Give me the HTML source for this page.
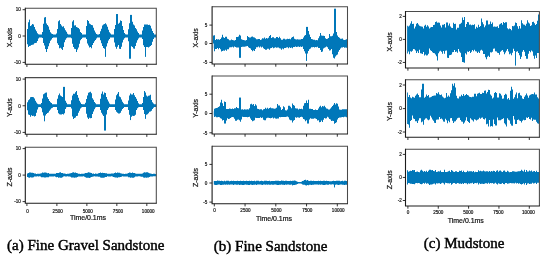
<!DOCTYPE html>
<html><head><meta charset="utf-8"><title>Vibration signals</title>
<style>
html,body{margin:0;padding:0;background:#fff;}
svg{display:block;}
svg text{font-family:"Liberation Sans",sans-serif;fill:#262626;}
svg text.tk{font-size:5.1px;fill:#1a1a1a;stroke:#1a1a1a;stroke-width:0.22px;}
svg text.yl{font-size:7px;fill:#111;stroke:#111;stroke-width:0.2px;}
svg text.xl{font-size:6.95px;fill:#111;stroke:#111;stroke-width:0.2px;}
svg text.cap{font-family:"Liberation Serif",serif;font-size:13.8px;fill:#000;stroke:#000;stroke-width:0.42px;}
</style></head><body>
<svg width="550" height="259" viewBox="0 0 550 259">
<rect width="550" height="259" fill="#fff"/>
<g><polygon fill="#0077b9" points="27.00,29.01 28.00,29.01 28.00,22.19 29.00,22.19 29.00,19.69 30.00,19.69 30.00,25.96 31.00,25.96 31.00,25.15 32.00,25.15 32.00,23.99 33.00,23.99 33.00,24.51 34.00,24.51 34.00,26.95 35.00,26.95 35.00,29.46 36.00,29.46 36.00,31.18 37.00,31.18 37.00,33.20 38.00,33.20 38.00,34.31 39.00,34.31 39.00,34.60 40.00,34.60 40.00,34.60 41.00,34.60 41.00,34.60 42.00,34.60 42.00,32.00 43.00,32.00 43.00,23.81 44.00,23.81 44.00,17.54 45.00,17.54 45.00,17.52 46.00,17.52 46.00,23.44 47.00,23.44 47.00,25.09 48.00,25.09 48.00,26.61 49.00,26.61 49.00,29.76 50.00,29.76 50.00,32.14 51.00,32.14 51.00,33.40 52.00,33.40 52.00,34.11 53.00,34.11 53.00,34.60 54.00,34.60 54.00,34.60 55.00,34.60 55.00,34.60 56.00,34.60 56.00,33.50 57.00,33.50 57.00,28.90 58.00,28.90 58.00,21.16 59.00,21.16 59.00,21.01 60.00,21.01 60.00,23.91 61.00,23.91 61.00,25.45 62.00,25.45 62.00,26.73 63.00,26.73 63.00,26.28 64.00,26.28 64.00,28.32 65.00,28.32 65.00,30.20 66.00,30.20 66.00,31.75 67.00,31.75 67.00,33.65 68.00,33.65 68.00,34.60 69.00,34.60 69.00,34.60 70.00,34.60 70.00,34.60 71.00,34.60 71.00,28.12 72.00,28.12 72.00,21.53 73.00,21.53 73.00,20.71 74.00,20.71 74.00,25.49 75.00,25.49 75.00,25.37 76.00,25.37 76.00,27.08 77.00,27.08 77.00,27.38 78.00,27.38 78.00,28.12 79.00,28.12 79.00,29.16 80.00,29.16 80.00,31.96 81.00,31.96 81.00,33.04 82.00,33.04 82.00,34.38 83.00,34.38 83.00,34.60 84.00,34.60 84.00,34.60 85.00,34.60 85.00,34.60 86.00,34.60 86.00,26.11 87.00,26.11 87.00,20.17 88.00,20.17 88.00,21.00 89.00,21.00 89.00,23.58 90.00,23.58 90.00,24.19 91.00,24.19 91.00,25.09 92.00,25.09 92.00,25.13 93.00,25.13 93.00,27.75 94.00,27.75 94.00,30.55 95.00,30.55 95.00,32.58 96.00,32.58 96.00,34.09 97.00,34.09 97.00,34.60 98.00,34.60 98.00,34.60 99.00,34.60 99.00,34.05 100.00,34.05 100.00,31.36 101.00,31.36 101.00,28.71 102.00,28.71 102.00,25.60 103.00,25.60 103.00,24.54 104.00,24.54 104.00,24.12 105.00,24.12 105.00,23.36 106.00,23.36 106.00,24.61 107.00,24.61 107.00,26.70 108.00,26.70 108.00,29.77 109.00,29.77 109.00,32.14 110.00,32.14 110.00,33.55 111.00,33.55 111.00,34.60 112.00,34.60 112.00,34.60 113.00,34.60 113.00,34.60 114.00,34.60 114.00,29.12 115.00,29.12 115.00,25.05 116.00,25.05 116.00,24.52 117.00,24.52 117.00,25.22 118.00,25.22 118.00,23.73 119.00,23.73 119.00,22.85 120.00,22.85 120.00,20.41 121.00,20.41 121.00,21.01 122.00,21.01 122.00,26.08 123.00,26.08 123.00,30.01 124.00,30.01 124.00,32.89 125.00,32.89 125.00,34.28 126.00,34.28 126.00,34.60 127.00,34.60 127.00,34.60 128.00,34.60 128.00,29.22 129.00,29.22 129.00,23.37 130.00,23.37 130.00,20.87 131.00,20.87 131.00,21.06 132.00,21.06 132.00,21.66 133.00,21.66 133.00,24.58 134.00,24.58 134.00,25.48 135.00,25.48 135.00,28.10 136.00,28.10 136.00,29.21 137.00,29.21 137.00,31.48 138.00,31.48 138.00,32.94 139.00,32.94 139.00,34.51 140.00,34.51 140.00,34.60 141.00,34.60 141.00,34.60 142.00,34.60 142.00,30.60 143.00,30.60 143.00,26.99 144.00,26.99 144.00,24.39 145.00,24.39 145.00,24.60 146.00,24.60 146.00,24.49 147.00,24.49 147.00,24.50 148.00,24.50 148.00,25.00 149.00,25.00 149.00,24.72 150.00,24.72 150.00,25.86 151.00,25.86 151.00,28.49 152.00,28.49 152.00,31.08 153.00,31.08 153.00,33.00 154.00,33.00 154.00,34.60 155.00,34.60 155.00,34.60 156.00,34.60 156.00,34.60 156.20,34.60 156.20,37.40 156.00,37.40 156.00,37.40 155.00,37.40 155.00,37.52 154.00,37.52 154.00,38.97 153.00,38.97 153.00,41.77 152.00,41.77 152.00,44.99 151.00,44.99 151.00,45.92 150.00,45.92 150.00,46.71 149.00,46.71 149.00,47.52 148.00,47.52 148.00,47.03 147.00,47.03 147.00,47.01 146.00,47.01 146.00,46.80 145.00,46.80 145.00,46.89 144.00,46.89 144.00,45.34 143.00,45.34 143.00,38.98 142.00,38.98 142.00,37.40 141.00,37.40 141.00,37.40 140.00,37.40 140.00,37.40 139.00,37.40 139.00,38.52 138.00,38.52 138.00,40.29 137.00,40.29 137.00,42.74 136.00,42.74 136.00,45.89 135.00,45.89 135.00,48.79 134.00,48.79 134.00,48.53 133.00,48.53 133.00,46.98 132.00,46.98 132.00,46.28 131.00,46.28 131.00,46.27 130.00,46.27 130.00,45.93 129.00,45.93 129.00,41.32 128.00,41.32 128.00,37.40 127.00,37.40 127.00,37.40 126.00,37.40 126.00,37.40 125.00,37.40 125.00,38.23 124.00,38.23 124.00,39.71 123.00,39.71 123.00,42.40 122.00,42.40 122.00,46.85 121.00,46.85 121.00,49.07 120.00,49.07 120.00,48.73 119.00,48.73 119.00,44.91 118.00,44.91 118.00,46.80 117.00,46.80 117.00,48.81 116.00,48.81 116.00,46.86 115.00,46.86 115.00,42.52 114.00,42.52 114.00,37.40 113.00,37.40 113.00,37.40 112.00,37.40 112.00,37.40 111.00,37.40 111.00,37.40 110.00,37.40 110.00,38.98 109.00,38.98 109.00,40.48 108.00,40.48 108.00,43.26 107.00,43.26 107.00,46.53 106.00,46.53 106.00,47.38 105.00,47.38 105.00,48.86 104.00,48.86 104.00,47.88 103.00,47.88 103.00,46.10 102.00,46.10 102.00,43.36 101.00,43.36 101.00,40.32 100.00,40.32 100.00,37.40 99.00,37.40 99.00,37.40 98.00,37.40 98.00,37.40 97.00,37.40 97.00,38.48 96.00,38.48 96.00,40.04 95.00,40.04 95.00,41.34 94.00,41.34 94.00,42.92 93.00,42.92 93.00,45.09 92.00,45.09 92.00,48.18 91.00,48.18 91.00,46.91 90.00,46.91 90.00,47.43 89.00,47.43 89.00,45.47 88.00,45.47 88.00,43.59 87.00,43.59 87.00,39.12 86.00,39.12 86.00,37.40 85.00,37.40 85.00,37.40 84.00,37.40 84.00,37.40 83.00,37.40 83.00,37.64 82.00,37.64 82.00,39.07 81.00,39.07 81.00,40.17 80.00,40.17 80.00,43.68 79.00,43.68 79.00,47.38 78.00,47.38 78.00,49.52 77.00,49.52 77.00,51.95 76.00,51.95 76.00,49.10 75.00,49.10 75.00,48.87 74.00,48.87 74.00,47.05 73.00,47.05 73.00,43.86 72.00,43.86 72.00,38.26 71.00,38.26 71.00,37.40 70.00,37.40 70.00,37.40 69.00,37.40 69.00,37.40 68.00,37.40 68.00,37.40 67.00,37.40 67.00,38.15 66.00,38.15 66.00,39.84 65.00,39.84 65.00,42.21 64.00,42.21 64.00,46.89 63.00,46.89 63.00,50.07 62.00,50.07 62.00,48.85 61.00,48.85 61.00,47.84 60.00,47.84 60.00,48.20 59.00,48.20 59.00,45.07 58.00,45.07 58.00,43.24 57.00,43.24 57.00,37.40 56.00,37.40 56.00,37.40 55.00,37.40 55.00,37.40 54.00,37.40 54.00,37.40 53.00,37.40 53.00,37.91 52.00,37.91 52.00,39.61 51.00,39.61 51.00,40.72 50.00,40.72 50.00,43.18 49.00,43.18 49.00,46.15 48.00,46.15 48.00,49.07 47.00,49.07 47.00,52.12 46.00,52.12 46.00,49.11 45.00,49.11 45.00,45.61 44.00,45.61 44.00,43.09 43.00,43.09 43.00,38.07 42.00,38.07 42.00,37.40 41.00,37.40 41.00,37.40 40.00,37.40 40.00,37.40 39.00,37.40 39.00,38.50 38.00,38.50 38.00,40.94 37.00,40.94 37.00,42.66 36.00,42.66 36.00,43.06 35.00,43.06 35.00,43.30 34.00,43.30 34.00,44.47 33.00,44.47 33.00,44.73 32.00,44.73 32.00,45.12 31.00,45.12 31.00,45.66 30.00,45.66 30.00,46.10 29.00,46.10 29.00,47.12 28.00,47.12 28.00,44.26 27.00,44.26"/><rect x="45" y="17.13" width="1" height="18.87" fill="#0077b9"/><rect x="29" y="19.85" width="1" height="16.15" fill="#0077b9"/><rect x="59" y="20.22" width="1" height="15.78" fill="#0077b9"/><rect x="73" y="20.22" width="1" height="15.78" fill="#0077b9"/><rect x="87" y="20.22" width="1" height="15.78" fill="#0077b9"/><rect x="116" y="14.04" width="2" height="21.96" fill="#0077b9"/><rect x="130" y="14.90" width="2" height="21.10" fill="#0077b9"/><rect x="120" y="20.84" width="1" height="15.16" fill="#0077b9"/><rect x="129" y="36.00" width="2" height="22.73" fill="#0077b9"/><rect x="105" y="36.00" width="1" height="20.87" fill="#0077b9"/><rect x="145" y="36.00" width="1" height="20.87" fill="#0077b9"/><polygon fill="#0077b9" points="27.00,102.17 28.00,102.17 28.00,100.17 29.00,100.17 29.00,99.13 30.00,99.13 30.00,97.33 31.00,97.33 31.00,96.92 32.00,96.92 32.00,97.07 33.00,97.07 33.00,97.32 34.00,97.32 34.00,98.48 35.00,98.48 35.00,100.63 36.00,100.63 36.00,102.61 37.00,102.61 37.00,103.84 38.00,103.84 38.00,104.30 39.00,104.30 39.00,104.30 40.00,104.30 40.00,104.30 41.00,104.30 41.00,103.08 42.00,103.08 42.00,98.43 43.00,98.43 43.00,94.36 44.00,94.36 44.00,93.44 45.00,93.44 45.00,92.79 46.00,92.79 46.00,92.46 47.00,92.46 47.00,97.37 48.00,97.37 48.00,99.04 49.00,99.04 49.00,101.04 50.00,101.04 50.00,102.37 51.00,102.37 51.00,103.09 52.00,103.09 52.00,104.27 53.00,104.27 53.00,104.30 54.00,104.30 54.00,104.30 55.00,104.30 55.00,104.30 56.00,104.30 56.00,104.30 57.00,104.30 57.00,98.70 58.00,98.70 58.00,95.34 59.00,95.34 59.00,93.56 60.00,93.56 60.00,95.56 61.00,95.56 61.00,96.29 62.00,96.29 62.00,96.88 63.00,96.88 63.00,98.20 64.00,98.20 64.00,99.18 65.00,99.18 65.00,100.75 66.00,100.75 66.00,102.73 67.00,102.73 67.00,104.30 68.00,104.30 68.00,104.30 69.00,104.30 69.00,104.30 70.00,104.30 70.00,104.30 71.00,104.30 71.00,100.37 72.00,100.37 72.00,95.53 73.00,95.53 73.00,93.71 74.00,93.71 74.00,93.78 75.00,93.78 75.00,92.20 76.00,92.20 76.00,91.12 77.00,91.12 77.00,94.93 78.00,94.93 78.00,97.78 79.00,97.78 79.00,100.82 80.00,100.82 80.00,102.57 81.00,102.57 81.00,104.06 82.00,104.06 82.00,104.30 83.00,104.30 83.00,104.30 84.00,104.30 84.00,104.30 85.00,104.30 85.00,102.69 86.00,102.69 86.00,99.01 87.00,99.01 87.00,95.47 88.00,95.47 88.00,92.79 89.00,92.79 89.00,92.13 90.00,92.13 90.00,91.85 91.00,91.85 91.00,93.24 92.00,93.24 92.00,98.30 93.00,98.30 93.00,99.78 94.00,99.78 94.00,101.90 95.00,101.90 95.00,103.14 96.00,103.14 96.00,104.30 97.00,104.30 97.00,104.30 98.00,104.30 98.00,104.30 99.00,104.30 99.00,104.30 100.00,104.30 100.00,98.79 101.00,98.79 101.00,93.72 102.00,93.72 102.00,91.53 103.00,91.53 103.00,94.52 104.00,94.52 104.00,92.45 105.00,92.45 105.00,93.01 106.00,93.01 106.00,96.99 107.00,96.99 107.00,99.55 108.00,99.55 108.00,101.41 109.00,101.41 109.00,103.38 110.00,103.38 110.00,104.26 111.00,104.26 111.00,104.30 112.00,104.30 112.00,104.30 113.00,104.30 113.00,104.30 114.00,104.30 114.00,104.30 115.00,104.30 115.00,99.56 116.00,99.56 116.00,95.21 117.00,95.21 117.00,93.80 118.00,93.80 118.00,91.90 119.00,91.90 119.00,96.42 120.00,96.42 120.00,97.21 121.00,97.21 121.00,99.57 122.00,99.57 122.00,101.87 123.00,101.87 123.00,103.23 124.00,103.23 124.00,104.30 125.00,104.30 125.00,104.30 126.00,104.30 126.00,104.30 127.00,104.30 127.00,104.30 128.00,104.30 128.00,100.43 129.00,100.43 129.00,95.41 130.00,95.41 130.00,93.51 131.00,93.51 131.00,94.43 132.00,94.43 132.00,94.54 133.00,94.54 133.00,92.93 134.00,92.93 134.00,95.22 135.00,95.22 135.00,97.01 136.00,97.01 136.00,98.65 137.00,98.65 137.00,100.95 138.00,100.95 138.00,103.21 139.00,103.21 139.00,104.30 140.00,104.30 140.00,104.30 141.00,104.30 141.00,104.30 142.00,104.30 142.00,103.11 143.00,103.11 143.00,97.08 144.00,97.08 144.00,91.07 145.00,91.07 145.00,92.55 146.00,92.55 146.00,95.45 147.00,95.45 147.00,96.39 148.00,96.39 148.00,95.84 149.00,95.84 149.00,95.47 150.00,95.47 150.00,94.66 151.00,94.66 151.00,100.10 152.00,100.10 152.00,102.37 153.00,102.37 153.00,103.54 154.00,103.54 154.00,104.30 155.00,104.30 155.00,104.30 156.00,104.30 156.00,104.30 156.20,104.30 156.20,107.10 156.00,107.10 156.00,107.10 155.00,107.10 155.00,107.10 154.00,107.10 154.00,107.70 153.00,107.70 153.00,109.10 152.00,109.10 152.00,110.68 151.00,110.68 151.00,111.55 150.00,111.55 150.00,111.72 149.00,111.72 149.00,113.31 148.00,113.31 148.00,114.26 147.00,114.26 147.00,114.84 146.00,114.84 146.00,115.20 145.00,115.20 145.00,114.08 144.00,114.08 144.00,109.89 143.00,109.89 143.00,107.10 142.00,107.10 142.00,107.10 141.00,107.10 141.00,107.10 140.00,107.10 140.00,107.10 139.00,107.10 139.00,107.35 138.00,107.35 138.00,108.22 137.00,108.22 137.00,109.95 136.00,109.95 136.00,114.87 135.00,114.87 135.00,115.75 134.00,115.75 134.00,115.90 133.00,115.90 133.00,115.87 132.00,115.87 132.00,116.67 131.00,116.67 131.00,116.59 130.00,116.59 130.00,114.63 129.00,114.63 129.00,109.93 128.00,109.93 128.00,107.10 127.00,107.10 127.00,107.10 126.00,107.10 126.00,107.10 125.00,107.10 125.00,107.10 124.00,107.10 124.00,107.90 123.00,107.90 123.00,109.10 122.00,109.10 122.00,110.85 121.00,110.85 121.00,112.73 120.00,112.73 120.00,113.39 119.00,113.39 119.00,113.40 118.00,113.40 118.00,112.64 117.00,112.64 117.00,111.86 116.00,111.86 116.00,110.04 115.00,110.04 115.00,107.10 114.00,107.10 114.00,107.10 113.00,107.10 113.00,107.10 112.00,107.10 112.00,107.10 111.00,107.10 111.00,107.10 110.00,107.10 110.00,107.10 109.00,107.10 109.00,108.13 108.00,108.13 108.00,109.90 107.00,109.90 107.00,114.43 106.00,114.43 106.00,115.57 105.00,115.57 105.00,115.48 104.00,115.48 104.00,116.12 103.00,116.12 103.00,114.42 102.00,114.42 102.00,112.85 101.00,112.85 101.00,109.95 100.00,109.95 100.00,107.10 99.00,107.10 99.00,107.10 98.00,107.10 98.00,107.10 97.00,107.10 97.00,107.10 96.00,107.10 96.00,107.60 95.00,107.60 95.00,109.18 94.00,109.18 94.00,111.56 93.00,111.56 93.00,113.94 92.00,113.94 92.00,117.93 91.00,117.93 91.00,118.17 90.00,118.17 90.00,117.83 89.00,117.83 89.00,118.89 88.00,118.89 88.00,117.47 87.00,117.47 87.00,113.85 86.00,113.85 86.00,107.10 85.00,107.10 85.00,107.10 84.00,107.10 84.00,107.10 83.00,107.10 83.00,107.10 82.00,107.10 82.00,107.38 81.00,107.38 81.00,108.48 80.00,108.48 80.00,110.67 79.00,110.67 79.00,112.78 78.00,112.78 78.00,115.69 77.00,115.69 77.00,115.96 76.00,115.96 76.00,117.62 75.00,117.62 75.00,118.07 74.00,118.07 74.00,119.03 73.00,119.03 73.00,116.56 72.00,116.56 72.00,108.52 71.00,108.52 71.00,107.10 70.00,107.10 70.00,107.10 69.00,107.10 69.00,107.10 68.00,107.10 68.00,107.10 67.00,107.10 67.00,107.27 66.00,107.27 66.00,109.07 65.00,109.07 65.00,113.24 64.00,113.24 64.00,114.52 63.00,114.52 63.00,113.89 62.00,113.89 62.00,114.38 61.00,114.38 61.00,114.38 60.00,114.38 60.00,114.29 59.00,114.29 59.00,113.14 58.00,113.14 58.00,109.96 57.00,109.96 57.00,107.10 56.00,107.10 56.00,107.10 55.00,107.10 55.00,107.10 54.00,107.10 54.00,107.10 53.00,107.10 53.00,107.78 52.00,107.78 52.00,108.36 51.00,108.36 51.00,109.57 50.00,109.57 50.00,110.66 49.00,110.66 49.00,112.43 48.00,112.43 48.00,112.95 47.00,112.95 47.00,114.05 46.00,114.05 46.00,115.62 45.00,115.62 45.00,114.78 44.00,114.78 44.00,115.52 43.00,115.52 43.00,112.24 42.00,112.24 42.00,108.15 41.00,108.15 41.00,107.10 40.00,107.10 40.00,107.10 39.00,107.10 39.00,107.36 38.00,107.36 38.00,109.47 37.00,109.47 37.00,112.76 36.00,112.76 36.00,116.01 35.00,116.01 35.00,116.54 34.00,116.54 34.00,115.69 33.00,115.69 33.00,115.99 32.00,115.99 32.00,115.32 31.00,115.32 31.00,116.67 30.00,116.67 30.00,115.12 29.00,115.12 29.00,114.55 28.00,114.55 28.00,110.32 27.00,110.32"/><rect x="63" y="86.88" width="2" height="18.82" fill="#0077b9"/><rect x="44" y="105.70" width="1" height="15.61" fill="#0077b9"/><rect x="104" y="105.70" width="2" height="24.88" fill="#0077b9"/><rect x="130" y="105.70" width="1" height="14.37" fill="#0077b9"/><rect x="145" y="105.70" width="1" height="13.14" fill="#0077b9"/><polygon fill="#0077b9" points="27.00,173.45 28.00,173.45 28.00,173.02 29.00,173.02 29.00,172.38 30.00,172.38 30.00,172.49 31.00,172.49 31.00,172.87 32.00,172.87 32.00,172.72 33.00,172.72 33.00,172.99 34.00,172.99 34.00,173.55 35.00,173.55 35.00,173.56 36.00,173.56 36.00,173.93 37.00,173.93 37.00,173.84 38.00,173.84 38.00,173.79 39.00,173.79 39.00,173.79 40.00,173.79 40.00,173.58 41.00,173.58 41.00,173.17 42.00,173.17 42.00,172.61 43.00,172.61 43.00,172.80 44.00,172.80 44.00,172.44 45.00,172.44 45.00,172.40 46.00,172.40 46.00,172.79 47.00,172.79 47.00,173.23 48.00,173.23 48.00,173.05 49.00,173.05 49.00,173.71 50.00,173.71 50.00,173.84 51.00,173.84 51.00,173.64 52.00,173.64 52.00,173.77 53.00,173.77 53.00,173.81 54.00,173.81 54.00,173.64 55.00,173.64 55.00,173.79 56.00,173.79 56.00,173.10 57.00,173.10 57.00,172.92 58.00,172.92 58.00,172.91 59.00,172.91 59.00,172.43 60.00,172.43 60.00,172.23 61.00,172.23 61.00,172.89 62.00,172.89 62.00,172.90 63.00,172.90 63.00,173.48 64.00,173.48 64.00,173.56 65.00,173.56 65.00,173.69 66.00,173.69 66.00,173.91 67.00,173.91 67.00,173.67 68.00,173.67 68.00,173.70 69.00,173.70 69.00,173.54 70.00,173.54 70.00,173.13 71.00,173.13 71.00,172.95 72.00,172.95 72.00,172.45 73.00,172.45 73.00,172.26 74.00,172.26 74.00,172.86 75.00,172.86 75.00,172.38 76.00,172.38 76.00,172.98 77.00,172.98 77.00,173.31 78.00,173.31 78.00,173.78 79.00,173.78 79.00,173.69 80.00,173.69 80.00,173.88 81.00,173.88 81.00,173.65 82.00,173.65 82.00,173.87 83.00,173.87 83.00,173.66 84.00,173.66 84.00,173.47 85.00,173.47 85.00,172.95 86.00,172.95 86.00,172.92 87.00,172.92 87.00,172.81 88.00,172.81 88.00,172.36 89.00,172.36 89.00,172.41 90.00,172.41 90.00,172.76 91.00,172.76 91.00,172.94 92.00,172.94 92.00,173.68 93.00,173.68 93.00,173.60 94.00,173.60 94.00,173.92 95.00,173.92 95.00,173.62 96.00,173.62 96.00,173.74 97.00,173.74 97.00,173.69 98.00,173.69 98.00,173.32 99.00,173.32 99.00,173.02 100.00,173.02 100.00,172.61 101.00,172.61 101.00,172.93 102.00,172.93 102.00,172.65 103.00,172.65 103.00,172.88 104.00,172.88 104.00,172.92 105.00,172.92 105.00,173.20 106.00,173.20 106.00,173.23 107.00,173.23 107.00,173.84 108.00,173.84 108.00,173.86 109.00,173.86 109.00,173.80 110.00,173.80 110.00,173.66 111.00,173.66 111.00,173.58 112.00,173.58 112.00,173.53 113.00,173.53 113.00,173.46 114.00,173.46 114.00,172.88 115.00,172.88 115.00,172.49 116.00,172.49 116.00,172.90 117.00,172.90 117.00,172.42 118.00,172.42 118.00,172.73 119.00,172.73 119.00,172.85 120.00,172.85 120.00,173.21 121.00,173.21 121.00,173.55 122.00,173.55 122.00,173.76 123.00,173.76 123.00,173.78 124.00,173.78 124.00,173.92 125.00,173.92 125.00,173.79 126.00,173.79 126.00,173.87 127.00,173.87 127.00,173.49 128.00,173.49 128.00,173.08 129.00,173.08 129.00,172.55 130.00,172.55 130.00,172.66 131.00,172.66 131.00,172.92 132.00,172.92 132.00,172.56 133.00,172.56 133.00,172.96 134.00,172.96 134.00,172.95 135.00,172.95 135.00,173.54 136.00,173.54 136.00,173.76 137.00,173.76 137.00,173.63 138.00,173.63 138.00,173.84 139.00,173.84 139.00,173.86 140.00,173.86 140.00,173.83 141.00,173.83 141.00,173.63 142.00,173.63 142.00,173.52 143.00,173.52 143.00,172.87 144.00,172.87 144.00,172.33 145.00,172.33 145.00,172.51 146.00,172.51 146.00,172.37 147.00,172.37 147.00,172.31 148.00,172.31 148.00,172.68 149.00,172.68 149.00,173.17 150.00,173.17 150.00,173.48 151.00,173.48 151.00,173.64 152.00,173.64 152.00,173.89 153.00,173.89 153.00,173.81 154.00,173.81 154.00,173.86 155.00,173.86 155.00,173.89 156.00,173.89 156.00,173.77 156.30,173.77 156.30,176.54 156.00,176.54 156.00,176.21 155.00,176.21 155.00,176.26 154.00,176.26 154.00,176.28 153.00,176.28 153.00,176.57 152.00,176.57 152.00,176.41 151.00,176.41 151.00,176.50 150.00,176.50 150.00,176.90 149.00,176.90 149.00,177.42 148.00,177.42 148.00,177.62 147.00,177.62 147.00,177.76 146.00,177.76 146.00,177.53 145.00,177.53 145.00,177.69 144.00,177.69 144.00,177.39 143.00,177.39 143.00,176.87 142.00,176.87 142.00,176.68 141.00,176.68 141.00,176.52 140.00,176.52 140.00,176.37 139.00,176.37 139.00,176.28 138.00,176.28 138.00,176.57 137.00,176.57 137.00,176.54 136.00,176.54 136.00,176.54 135.00,176.54 135.00,177.33 134.00,177.33 134.00,177.74 133.00,177.74 133.00,177.71 132.00,177.71 132.00,177.40 131.00,177.40 131.00,177.66 130.00,177.66 130.00,177.25 129.00,177.25 129.00,177.33 128.00,177.33 128.00,176.61 127.00,176.61 127.00,176.51 126.00,176.51 126.00,176.39 125.00,176.39 125.00,176.38 124.00,176.38 124.00,176.53 123.00,176.53 123.00,176.24 122.00,176.24 122.00,176.68 121.00,176.68 121.00,176.99 120.00,176.99 120.00,177.29 119.00,177.29 119.00,177.31 118.00,177.31 118.00,177.77 117.00,177.77 117.00,177.56 116.00,177.56 116.00,177.39 115.00,177.39 115.00,177.23 114.00,177.23 114.00,177.11 113.00,177.11 113.00,176.41 112.00,176.41 112.00,176.29 111.00,176.29 111.00,176.58 110.00,176.58 110.00,176.55 109.00,176.55 109.00,176.56 108.00,176.56 108.00,176.34 107.00,176.34 107.00,176.90 106.00,176.90 106.00,177.09 105.00,177.09 105.00,177.42 104.00,177.42 104.00,177.75 103.00,177.75 103.00,177.76 102.00,177.76 102.00,177.87 101.00,177.87 101.00,177.42 100.00,177.42 100.00,176.75 99.00,176.75 99.00,176.65 98.00,176.65 98.00,176.58 97.00,176.58 97.00,176.45 96.00,176.45 96.00,176.47 95.00,176.47 95.00,176.34 94.00,176.34 94.00,176.53 93.00,176.53 93.00,176.68 92.00,176.68 92.00,177.05 91.00,177.05 91.00,177.52 90.00,177.52 90.00,177.89 89.00,177.89 89.00,177.78 88.00,177.78 88.00,177.68 87.00,177.68 87.00,177.64 86.00,177.64 86.00,177.35 85.00,177.35 85.00,176.70 84.00,176.70 84.00,176.30 83.00,176.30 83.00,176.60 82.00,176.60 82.00,176.43 81.00,176.43 81.00,176.55 80.00,176.55 80.00,176.41 79.00,176.41 79.00,176.43 78.00,176.43 78.00,176.91 77.00,176.91 77.00,177.48 76.00,177.48 76.00,177.56 75.00,177.56 75.00,177.85 74.00,177.85 74.00,177.55 73.00,177.55 73.00,177.42 72.00,177.42 72.00,177.43 71.00,177.43 71.00,176.77 70.00,176.77 70.00,176.54 69.00,176.54 69.00,176.50 68.00,176.50 68.00,176.30 67.00,176.30 67.00,176.54 66.00,176.54 66.00,176.39 65.00,176.39 65.00,176.35 64.00,176.35 64.00,176.57 63.00,176.57 63.00,177.24 62.00,177.24 62.00,177.84 61.00,177.84 61.00,177.84 60.00,177.84 60.00,177.40 59.00,177.40 59.00,177.66 58.00,177.66 58.00,177.06 57.00,177.06 57.00,177.19 56.00,177.19 56.00,176.64 55.00,176.64 55.00,176.31 54.00,176.31 54.00,176.60 53.00,176.60 53.00,176.55 52.00,176.55 52.00,176.47 51.00,176.47 51.00,176.40 50.00,176.40 50.00,176.41 49.00,176.41 49.00,177.13 48.00,177.13 48.00,177.32 47.00,177.32 47.00,177.36 46.00,177.36 46.00,177.52 45.00,177.52 45.00,177.48 44.00,177.48 44.00,177.30 43.00,177.30 43.00,177.13 42.00,177.13 42.00,177.13 41.00,177.13 41.00,176.44 40.00,176.44 40.00,176.37 39.00,176.37 39.00,176.47 38.00,176.47 38.00,176.36 37.00,176.36 37.00,176.43 36.00,176.43 36.00,176.39 35.00,176.39 35.00,176.61 34.00,176.61 34.00,177.35 33.00,177.35 33.00,177.44 32.00,177.44 32.00,177.60 31.00,177.60 31.00,177.35 30.00,177.35 30.00,177.65 29.00,177.65 29.00,177.44 28.00,177.44 28.00,176.88 27.00,176.88"/><polygon fill="#0077b9" points="213.80,37.93 214.00,37.93 214.00,35.37 215.00,35.37 215.00,40.08 216.00,40.08 216.00,39.01 217.00,39.01 217.00,39.52 218.00,39.52 218.00,39.25 219.00,39.25 219.00,39.80 220.00,39.80 220.00,39.04 221.00,39.04 221.00,37.39 222.00,37.39 222.00,34.68 223.00,34.68 223.00,37.20 224.00,37.20 224.00,38.08 225.00,38.08 225.00,36.68 226.00,36.68 226.00,36.71 227.00,36.71 227.00,38.69 228.00,38.69 228.00,39.31 229.00,39.31 229.00,40.24 230.00,40.24 230.00,40.27 231.00,40.27 231.00,39.49 232.00,39.49 232.00,39.97 233.00,39.97 233.00,40.15 234.00,40.15 234.00,40.52 235.00,40.52 235.00,39.90 236.00,39.90 236.00,36.91 237.00,36.91 237.00,36.91 238.00,36.91 238.00,36.42 239.00,36.42 239.00,34.72 240.00,34.72 240.00,36.12 241.00,36.12 241.00,39.36 242.00,39.36 242.00,39.86 243.00,39.86 243.00,40.11 244.00,40.11 244.00,40.24 245.00,40.24 245.00,40.61 246.00,40.61 246.00,40.02 247.00,40.02 247.00,36.11 248.00,36.11 248.00,37.02 249.00,37.02 249.00,37.58 250.00,37.58 250.00,37.61 251.00,37.61 251.00,36.81 252.00,36.81 252.00,36.39 253.00,36.39 253.00,37.26 254.00,37.26 254.00,37.44 255.00,37.44 255.00,38.18 256.00,38.18 256.00,39.34 257.00,39.34 257.00,39.23 258.00,39.23 258.00,39.07 259.00,39.07 259.00,39.11 260.00,39.11 260.00,39.91 261.00,39.91 261.00,39.45 262.00,39.45 262.00,38.30 263.00,38.30 263.00,38.50 264.00,38.50 264.00,37.46 265.00,37.46 265.00,38.77 266.00,38.77 266.00,38.04 267.00,38.04 267.00,38.57 268.00,38.57 268.00,37.66 269.00,37.66 269.00,35.93 270.00,35.93 270.00,34.93 271.00,34.93 271.00,37.98 272.00,37.98 272.00,37.15 273.00,37.15 273.00,37.27 274.00,37.27 274.00,38.27 275.00,38.27 275.00,38.14 276.00,38.14 276.00,37.09 277.00,37.09 277.00,36.96 278.00,36.96 278.00,37.91 279.00,37.91 279.00,36.83 280.00,36.83 280.00,38.13 281.00,38.13 281.00,39.67 282.00,39.67 282.00,39.74 283.00,39.74 283.00,38.82 284.00,38.82 284.00,38.71 285.00,38.71 285.00,39.52 286.00,39.52 286.00,39.27 287.00,39.27 287.00,38.82 288.00,38.82 288.00,39.11 289.00,39.11 289.00,38.70 290.00,38.70 290.00,39.37 291.00,39.37 291.00,37.77 292.00,37.77 292.00,37.08 293.00,37.08 293.00,36.53 294.00,36.53 294.00,38.85 295.00,38.85 295.00,39.24 296.00,39.24 296.00,39.39 297.00,39.39 297.00,39.21 298.00,39.21 298.00,39.56 299.00,39.56 299.00,39.47 300.00,39.47 300.00,39.54 301.00,39.54 301.00,39.01 302.00,39.01 302.00,39.11 303.00,39.11 303.00,37.40 304.00,37.40 304.00,35.87 305.00,35.87 305.00,35.04 306.00,35.04 306.00,33.86 307.00,33.86 307.00,34.66 308.00,34.66 308.00,33.77 309.00,33.77 309.00,34.40 310.00,34.40 310.00,36.88 311.00,36.88 311.00,39.12 312.00,39.12 312.00,39.31 313.00,39.31 313.00,39.75 314.00,39.75 314.00,39.81 315.00,39.81 315.00,40.30 316.00,40.30 316.00,39.93 317.00,39.93 317.00,40.37 318.00,40.37 318.00,38.19 319.00,38.19 319.00,36.28 320.00,36.28 320.00,36.87 321.00,36.87 321.00,35.59 322.00,35.59 322.00,35.74 323.00,35.74 323.00,35.75 324.00,35.75 324.00,35.97 325.00,35.97 325.00,38.15 326.00,38.15 326.00,38.99 327.00,38.99 327.00,38.75 328.00,38.75 328.00,37.98 329.00,37.98 329.00,36.36 330.00,36.36 330.00,36.19 331.00,36.19 331.00,36.22 332.00,36.22 332.00,35.73 333.00,35.73 333.00,33.43 334.00,33.43 334.00,33.26 335.00,33.26 335.00,33.72 336.00,33.72 336.00,32.07 337.00,32.07 337.00,35.51 338.00,35.51 338.00,36.96 339.00,36.96 339.00,37.66 340.00,37.66 340.00,38.67 341.00,38.67 341.00,38.76 342.00,38.76 342.00,38.52 343.00,38.52 343.00,39.65 344.00,39.65 344.00,39.89 345.00,39.89 345.00,39.78 346.00,39.78 346.00,39.29 347.00,39.29 347.00,39.74 347.40,39.74 347.40,46.81 347.00,46.81 347.00,47.72 346.00,47.72 346.00,47.57 345.00,47.57 345.00,47.67 344.00,47.67 344.00,47.02 343.00,47.02 343.00,47.38 342.00,47.38 342.00,47.41 341.00,47.41 341.00,48.40 340.00,48.40 340.00,50.01 339.00,50.01 339.00,51.71 338.00,51.71 338.00,54.38 337.00,54.38 337.00,55.15 336.00,55.15 336.00,56.53 335.00,56.53 335.00,58.46 334.00,58.46 334.00,57.81 333.00,57.81 333.00,54.32 332.00,54.32 332.00,49.08 331.00,49.08 331.00,50.32 330.00,50.32 330.00,50.54 329.00,50.54 329.00,49.06 328.00,49.06 328.00,47.22 327.00,47.22 327.00,46.50 326.00,46.50 326.00,47.36 325.00,47.36 325.00,47.74 324.00,47.74 324.00,48.55 323.00,48.55 323.00,51.43 322.00,51.43 322.00,51.92 321.00,51.92 321.00,50.11 320.00,50.11 320.00,47.92 319.00,47.92 319.00,48.10 318.00,48.10 318.00,46.72 317.00,46.72 317.00,47.31 316.00,47.31 316.00,46.90 315.00,46.90 315.00,47.40 314.00,47.40 314.00,47.00 313.00,47.00 313.00,47.36 312.00,47.36 312.00,47.36 311.00,47.36 311.00,48.52 310.00,48.52 310.00,49.15 309.00,49.15 309.00,50.95 308.00,50.95 308.00,53.57 307.00,53.57 307.00,54.56 306.00,54.56 306.00,53.41 305.00,53.41 305.00,51.15 304.00,51.15 304.00,49.10 303.00,49.10 303.00,46.45 302.00,46.45 302.00,46.95 301.00,46.95 301.00,46.48 300.00,46.48 300.00,47.02 299.00,47.02 299.00,46.54 298.00,46.54 298.00,46.87 297.00,46.87 297.00,46.99 296.00,46.99 296.00,46.45 295.00,46.45 295.00,47.03 294.00,47.03 294.00,46.98 293.00,46.98 293.00,48.14 292.00,48.14 292.00,47.38 291.00,47.38 291.00,48.07 290.00,48.07 290.00,47.29 289.00,47.29 289.00,48.22 288.00,48.22 288.00,47.16 287.00,47.16 287.00,47.51 286.00,47.51 286.00,48.02 285.00,48.02 285.00,48.12 284.00,48.12 284.00,49.24 283.00,49.24 283.00,48.44 282.00,48.44 282.00,49.64 281.00,49.64 281.00,48.56 280.00,48.56 280.00,48.15 279.00,48.15 279.00,47.39 278.00,47.39 278.00,47.61 277.00,47.61 277.00,47.79 276.00,47.79 276.00,47.26 275.00,47.26 275.00,47.73 274.00,47.73 274.00,48.20 273.00,48.20 273.00,47.25 272.00,47.25 272.00,48.11 271.00,48.11 271.00,48.31 270.00,48.31 270.00,49.74 269.00,49.74 269.00,48.79 268.00,48.79 268.00,48.78 267.00,48.78 267.00,49.80 266.00,49.80 266.00,49.73 265.00,49.73 265.00,48.98 264.00,48.98 264.00,48.20 263.00,48.20 263.00,46.72 262.00,46.72 262.00,47.42 261.00,47.42 261.00,46.54 260.00,46.54 260.00,47.49 259.00,47.49 259.00,46.59 258.00,46.59 258.00,47.15 257.00,47.15 257.00,47.19 256.00,47.19 256.00,48.97 255.00,48.97 255.00,51.07 254.00,51.07 254.00,50.28 253.00,50.28 253.00,51.29 252.00,51.29 252.00,49.93 251.00,49.93 251.00,48.51 250.00,48.51 250.00,48.02 249.00,48.02 249.00,47.20 248.00,47.20 248.00,46.09 247.00,46.09 247.00,46.26 246.00,46.26 246.00,46.57 245.00,46.57 245.00,46.77 244.00,46.77 244.00,46.75 243.00,46.75 243.00,46.83 242.00,46.83 242.00,46.88 241.00,46.88 241.00,46.76 240.00,46.76 240.00,47.55 239.00,47.55 239.00,47.41 238.00,47.41 238.00,47.44 237.00,47.44 237.00,47.58 236.00,47.58 236.00,46.95 235.00,46.95 235.00,46.60 234.00,46.60 234.00,47.47 233.00,47.47 233.00,46.80 232.00,46.80 232.00,47.26 231.00,47.26 231.00,47.23 230.00,47.23 230.00,47.57 229.00,47.57 229.00,49.14 228.00,49.14 228.00,49.19 227.00,49.19 227.00,50.66 226.00,50.66 226.00,49.86 225.00,49.86 225.00,50.72 224.00,50.72 224.00,50.59 223.00,50.59 223.00,51.12 222.00,51.12 222.00,51.41 221.00,51.41 221.00,49.35 220.00,49.35 220.00,48.01 219.00,48.01 219.00,49.14 218.00,49.14 218.00,47.92 217.00,47.92 217.00,49.09 216.00,49.09 216.00,48.88 215.00,48.88 215.00,51.17 214.00,51.17 214.00,48.24 213.80,48.24"/><rect x="240" y="35.56" width="1" height="7.94" fill="#0077b9"/><rect x="222" y="35.56" width="1" height="7.94" fill="#0077b9"/><rect x="213" y="35.56" width="1" height="7.94" fill="#0077b9"/><rect x="239" y="43.50" width="2" height="14.32" fill="#0077b9"/><rect x="306" y="26.90" width="2" height="16.60" fill="#0077b9"/><rect x="308" y="31.00" width="1" height="12.50" fill="#0077b9"/><rect x="320" y="33.00" width="1" height="10.50" fill="#0077b9"/><rect x="329" y="34.00" width="1" height="9.50" fill="#0077b9"/><rect x="334" y="8.70" width="2" height="34.80" fill="#0077b9"/><rect x="306" y="43.50" width="1" height="17.41" fill="#0077b9"/><polygon fill="#0077b9" points="213.80,111.21 214.00,111.21 214.00,108.78 215.00,108.78 215.00,108.26 216.00,108.26 216.00,107.95 217.00,107.95 217.00,107.75 218.00,107.75 218.00,106.98 219.00,106.98 219.00,106.35 220.00,106.35 220.00,102.45 221.00,102.45 221.00,99.66 222.00,99.66 222.00,103.26 223.00,103.26 223.00,106.09 224.00,106.09 224.00,101.44 225.00,101.44 225.00,102.08 226.00,102.08 226.00,109.12 227.00,109.12 227.00,109.06 228.00,109.06 228.00,109.05 229.00,109.05 229.00,108.43 230.00,108.43 230.00,108.68 231.00,108.68 231.00,109.07 232.00,109.07 232.00,108.49 233.00,108.49 233.00,109.10 234.00,109.10 234.00,108.37 235.00,108.37 235.00,108.33 236.00,108.33 236.00,107.01 237.00,107.01 237.00,107.90 238.00,107.90 238.00,108.31 239.00,108.31 239.00,107.33 240.00,107.33 240.00,108.97 241.00,108.97 241.00,109.40 242.00,109.40 242.00,109.22 243.00,109.22 243.00,109.85 244.00,109.85 244.00,109.21 245.00,109.21 245.00,109.60 246.00,109.60 246.00,109.52 247.00,109.52 247.00,109.31 248.00,109.31 248.00,109.41 249.00,109.41 249.00,108.25 250.00,108.25 250.00,104.15 251.00,104.15 251.00,103.70 252.00,103.70 252.00,104.87 253.00,104.87 253.00,104.07 254.00,104.07 254.00,105.98 255.00,105.98 255.00,104.32 256.00,104.32 256.00,105.43 257.00,105.43 257.00,108.82 258.00,108.82 258.00,108.92 259.00,108.92 259.00,109.53 260.00,109.53 260.00,109.34 261.00,109.34 261.00,109.21 262.00,109.21 262.00,110.18 263.00,110.18 263.00,109.24 264.00,109.24 264.00,109.12 265.00,109.12 265.00,107.63 266.00,107.63 266.00,108.73 267.00,108.73 267.00,107.68 268.00,107.68 268.00,108.69 269.00,108.69 269.00,107.93 270.00,107.93 270.00,107.47 271.00,107.47 271.00,108.28 272.00,108.28 272.00,108.14 273.00,108.14 273.00,108.40 274.00,108.40 274.00,108.87 275.00,108.87 275.00,108.60 276.00,108.60 276.00,107.65 277.00,107.65 277.00,104.10 278.00,104.10 278.00,105.38 279.00,105.38 279.00,105.45 280.00,105.45 280.00,107.26 281.00,107.26 281.00,109.98 282.00,109.98 282.00,108.90 283.00,108.90 283.00,106.27 284.00,106.27 284.00,107.17 285.00,107.17 285.00,110.16 286.00,110.16 286.00,110.49 287.00,110.49 287.00,109.49 288.00,109.49 288.00,105.82 289.00,105.82 289.00,105.84 290.00,105.84 290.00,106.74 291.00,106.74 291.00,108.17 292.00,108.17 292.00,103.44 293.00,103.44 293.00,104.89 294.00,104.89 294.00,105.63 295.00,105.63 295.00,108.14 296.00,108.14 296.00,108.52 297.00,108.52 297.00,108.57 298.00,108.57 298.00,109.52 299.00,109.52 299.00,108.70 300.00,108.70 300.00,108.96 301.00,108.96 301.00,108.83 302.00,108.83 302.00,109.31 303.00,109.31 303.00,105.69 304.00,105.69 304.00,103.23 305.00,103.23 305.00,103.02 306.00,103.02 306.00,100.47 307.00,100.47 307.00,103.04 308.00,103.04 308.00,99.87 309.00,99.87 309.00,108.76 310.00,108.76 310.00,108.70 311.00,108.70 311.00,109.09 312.00,109.09 312.00,108.98 313.00,108.98 313.00,109.99 314.00,109.99 314.00,110.08 315.00,110.08 315.00,109.51 316.00,109.51 316.00,109.99 317.00,109.99 317.00,109.91 318.00,109.91 318.00,108.60 319.00,108.60 319.00,106.68 320.00,106.68 320.00,105.87 321.00,105.87 321.00,107.35 322.00,107.35 322.00,106.08 323.00,106.08 323.00,106.38 324.00,106.38 324.00,105.83 325.00,105.83 325.00,107.29 326.00,107.29 326.00,108.58 327.00,108.58 327.00,108.72 328.00,108.72 328.00,109.60 329.00,109.60 329.00,109.53 330.00,109.53 330.00,108.40 331.00,108.40 331.00,107.25 332.00,107.25 332.00,106.06 333.00,106.06 333.00,104.75 334.00,104.75 334.00,103.07 335.00,103.07 335.00,104.47 336.00,104.47 336.00,103.23 337.00,103.23 337.00,103.79 338.00,103.79 338.00,106.43 339.00,106.43 339.00,109.59 340.00,109.59 340.00,109.83 341.00,109.83 341.00,109.84 342.00,109.84 342.00,109.21 343.00,109.21 343.00,109.22 344.00,109.22 344.00,109.27 345.00,109.27 345.00,109.32 346.00,109.32 346.00,109.31 347.00,109.31 347.00,109.22 347.40,109.22 347.40,117.09 347.00,117.09 347.00,117.18 346.00,117.18 346.00,116.70 345.00,116.70 345.00,116.83 344.00,116.83 344.00,117.14 343.00,117.14 343.00,117.10 342.00,117.10 342.00,117.19 341.00,117.19 341.00,117.47 340.00,117.47 340.00,117.55 339.00,117.55 339.00,118.11 338.00,118.11 338.00,119.55 337.00,119.55 337.00,122.19 336.00,122.19 336.00,122.99 335.00,122.99 335.00,123.70 334.00,123.70 334.00,120.92 333.00,120.92 333.00,120.63 332.00,120.63 332.00,121.09 331.00,121.09 331.00,119.58 330.00,119.58 330.00,118.91 329.00,118.91 329.00,117.53 328.00,117.53 328.00,116.79 327.00,116.79 327.00,118.13 326.00,118.13 326.00,118.56 325.00,118.56 325.00,117.99 324.00,117.99 324.00,119.74 323.00,119.74 323.00,121.93 322.00,121.93 322.00,120.45 321.00,120.45 321.00,121.93 320.00,121.93 320.00,122.18 319.00,122.18 319.00,120.24 318.00,120.24 318.00,120.59 317.00,120.59 317.00,118.93 316.00,118.93 316.00,118.46 315.00,118.46 315.00,118.32 314.00,118.32 314.00,118.84 313.00,118.84 313.00,118.71 312.00,118.71 312.00,118.65 311.00,118.65 311.00,118.17 310.00,118.17 310.00,119.48 309.00,119.48 309.00,122.00 308.00,122.00 308.00,121.77 307.00,121.77 307.00,120.26 306.00,120.26 306.00,121.18 305.00,121.18 305.00,119.46 304.00,119.46 304.00,118.96 303.00,118.96 303.00,117.14 302.00,117.14 302.00,116.80 301.00,116.80 301.00,116.96 300.00,116.96 300.00,117.70 299.00,117.70 299.00,117.44 298.00,117.44 298.00,117.37 297.00,117.37 297.00,117.80 296.00,117.80 296.00,117.30 295.00,117.30 295.00,119.93 294.00,119.93 294.00,120.78 293.00,120.78 293.00,122.49 292.00,122.49 292.00,120.35 291.00,120.35 291.00,120.18 290.00,120.18 290.00,119.41 289.00,119.41 289.00,117.13 288.00,117.13 288.00,116.41 287.00,116.41 287.00,116.84 286.00,116.84 286.00,116.97 285.00,116.97 285.00,117.07 284.00,117.07 284.00,117.09 283.00,117.09 283.00,117.04 282.00,117.04 282.00,116.92 281.00,116.92 281.00,117.25 280.00,117.25 280.00,117.03 279.00,117.03 279.00,118.62 278.00,118.62 278.00,118.61 277.00,118.61 277.00,118.69 276.00,118.69 276.00,118.57 275.00,118.57 275.00,117.86 274.00,117.86 274.00,118.48 273.00,118.48 273.00,117.42 272.00,117.42 272.00,118.04 271.00,118.04 271.00,118.22 270.00,118.22 270.00,117.96 269.00,117.96 269.00,117.78 268.00,117.78 268.00,117.78 267.00,117.78 267.00,118.30 266.00,118.30 266.00,120.20 265.00,120.20 265.00,120.31 264.00,120.31 264.00,119.67 263.00,119.67 263.00,117.45 262.00,117.45 262.00,118.04 261.00,118.04 261.00,117.19 260.00,117.19 260.00,117.97 259.00,117.97 259.00,118.11 258.00,118.11 258.00,118.10 257.00,118.10 257.00,117.96 256.00,117.96 256.00,117.77 255.00,117.77 255.00,120.21 254.00,120.21 254.00,120.76 253.00,120.76 253.00,121.30 252.00,121.30 252.00,119.94 251.00,119.94 251.00,118.44 250.00,118.44 250.00,116.84 249.00,116.84 249.00,116.97 248.00,116.97 248.00,117.25 247.00,117.25 247.00,116.91 246.00,116.91 246.00,117.04 245.00,117.04 245.00,116.96 244.00,116.96 244.00,117.00 243.00,117.00 243.00,116.77 242.00,116.77 242.00,119.53 241.00,119.53 241.00,121.66 240.00,121.66 240.00,120.24 239.00,120.24 239.00,119.42 238.00,119.42 238.00,119.70 237.00,119.70 237.00,120.87 236.00,120.87 236.00,120.75 235.00,120.75 235.00,118.74 234.00,118.74 234.00,117.36 233.00,117.36 233.00,117.04 232.00,117.04 232.00,117.20 231.00,117.20 231.00,118.10 230.00,118.10 230.00,118.66 229.00,118.66 229.00,119.05 228.00,119.05 228.00,118.36 227.00,118.36 227.00,120.56 226.00,120.56 226.00,119.66 225.00,119.66 225.00,120.70 224.00,120.70 224.00,119.96 223.00,119.96 223.00,120.40 222.00,120.40 222.00,118.72 221.00,118.72 221.00,118.18 220.00,118.18 220.00,117.13 219.00,117.13 219.00,117.11 218.00,117.11 218.00,117.16 217.00,117.16 217.00,117.17 216.00,117.17 216.00,116.57 215.00,116.57 215.00,116.92 214.00,116.92 214.00,115.34 213.80,115.34"/><rect x="239" y="97.56" width="2" height="15.94" fill="#0077b9"/><rect x="224" y="113.50" width="2" height="10.03" fill="#0077b9"/><rect x="307" y="113.50" width="2" height="10.03" fill="#0077b9"/><polygon fill="#0077b9" points="213.80,180.88 214.00,180.88 214.00,180.99 215.00,180.99 215.00,180.97 216.00,180.97 216.00,180.97 217.00,180.97 217.00,180.62 218.00,180.62 218.00,180.82 219.00,180.82 219.00,180.80 220.00,180.80 220.00,181.00 221.00,181.00 221.00,180.80 222.00,180.80 222.00,181.11 223.00,181.11 223.00,181.16 224.00,181.16 224.00,180.70 225.00,180.70 225.00,181.18 226.00,181.18 226.00,180.63 227.00,180.63 227.00,180.71 228.00,180.71 228.00,180.74 229.00,180.74 229.00,181.16 230.00,181.16 230.00,181.07 231.00,181.07 231.00,180.70 232.00,180.70 232.00,180.94 233.00,180.94 233.00,180.83 234.00,180.83 234.00,181.12 235.00,181.12 235.00,181.08 236.00,181.08 236.00,180.90 237.00,180.90 237.00,180.75 238.00,180.75 238.00,180.88 239.00,180.88 239.00,181.12 240.00,181.12 240.00,180.69 241.00,180.69 241.00,181.11 242.00,181.11 242.00,180.93 243.00,180.93 243.00,180.85 244.00,180.85 244.00,181.00 245.00,181.00 245.00,180.95 246.00,180.95 246.00,180.68 247.00,180.68 247.00,180.93 248.00,180.93 248.00,180.88 249.00,180.88 249.00,180.63 250.00,180.63 250.00,181.03 251.00,181.03 251.00,180.67 252.00,180.67 252.00,180.98 253.00,180.98 253.00,181.01 254.00,181.01 254.00,180.68 255.00,180.68 255.00,181.15 256.00,181.15 256.00,180.69 257.00,180.69 257.00,180.71 258.00,180.71 258.00,180.68 259.00,180.68 259.00,181.15 260.00,181.15 260.00,181.05 261.00,181.05 261.00,180.74 262.00,180.74 262.00,180.94 263.00,180.94 263.00,181.18 264.00,181.18 264.00,180.79 265.00,180.79 265.00,180.73 266.00,180.73 266.00,180.63 267.00,180.63 267.00,181.10 268.00,181.10 268.00,181.04 269.00,181.04 269.00,180.71 270.00,180.71 270.00,181.13 271.00,181.13 271.00,181.03 272.00,181.03 272.00,180.93 273.00,180.93 273.00,180.95 274.00,180.95 274.00,180.88 275.00,180.88 275.00,180.69 276.00,180.69 276.00,180.83 277.00,180.83 277.00,180.81 278.00,180.81 278.00,180.85 279.00,180.85 279.00,181.06 280.00,181.06 280.00,180.93 281.00,180.93 281.00,180.62 282.00,180.62 282.00,180.67 283.00,180.67 283.00,180.75 284.00,180.75 284.00,180.88 285.00,180.88 285.00,180.69 286.00,180.69 286.00,180.83 287.00,180.83 287.00,180.96 288.00,180.96 288.00,180.88 289.00,180.88 289.00,181.07 290.00,181.07 290.00,180.86 291.00,180.86 291.00,181.01 292.00,181.01 292.00,180.74 293.00,180.74 293.00,180.71 294.00,180.71 294.00,180.62 295.00,180.62 295.00,180.71 296.00,180.71 296.00,181.29 297.00,181.29 297.00,181.66 298.00,181.66 298.00,182.06 299.00,182.06 299.00,182.08 300.00,182.08 300.00,182.11 301.00,182.11 301.00,181.71 302.00,181.71 302.00,180.94 303.00,180.94 303.00,180.87 304.00,180.87 304.00,180.08 305.00,180.08 305.00,179.85 306.00,179.85 306.00,180.41 307.00,180.41 307.00,180.08 308.00,180.08 308.00,180.83 309.00,180.83 309.00,181.05 310.00,181.05 310.00,180.74 311.00,180.74 311.00,180.71 312.00,180.71 312.00,181.07 313.00,181.07 313.00,180.64 314.00,180.64 314.00,180.96 315.00,180.96 315.00,181.08 316.00,181.08 316.00,181.01 317.00,181.01 317.00,181.12 318.00,181.12 318.00,180.75 319.00,180.75 319.00,181.02 320.00,181.02 320.00,180.79 321.00,180.79 321.00,180.92 322.00,180.92 322.00,181.11 323.00,181.11 323.00,180.85 324.00,180.85 324.00,180.63 325.00,180.63 325.00,181.08 326.00,181.08 326.00,180.64 327.00,180.64 327.00,181.12 328.00,181.12 328.00,180.89 329.00,180.89 329.00,181.25 330.00,181.25 330.00,181.13 331.00,181.13 331.00,181.33 332.00,181.33 332.00,180.89 333.00,180.89 333.00,180.81 334.00,180.81 334.00,180.93 335.00,180.93 335.00,181.04 336.00,181.04 336.00,180.69 337.00,180.69 337.00,180.68 338.00,180.68 338.00,180.74 339.00,180.74 339.00,180.73 340.00,180.73 340.00,181.16 341.00,181.16 341.00,181.06 342.00,181.06 342.00,180.87 343.00,180.87 343.00,181.14 344.00,181.14 344.00,180.85 345.00,180.85 345.00,180.65 346.00,180.65 346.00,180.98 347.00,180.98 347.00,180.79 347.40,180.79 347.40,184.91 347.00,184.91 347.00,184.80 346.00,184.80 346.00,184.82 345.00,184.82 345.00,184.94 344.00,184.94 344.00,184.79 343.00,184.79 343.00,184.71 342.00,184.71 342.00,184.44 341.00,184.44 341.00,184.44 340.00,184.44 340.00,184.83 339.00,184.83 339.00,184.89 338.00,184.89 338.00,184.76 337.00,184.76 337.00,184.46 336.00,184.46 336.00,184.69 335.00,184.69 335.00,184.83 334.00,184.83 334.00,184.49 333.00,184.49 333.00,184.36 332.00,184.36 332.00,184.44 331.00,184.44 331.00,184.40 330.00,184.40 330.00,184.31 329.00,184.31 329.00,184.86 328.00,184.86 328.00,184.86 327.00,184.86 327.00,184.56 326.00,184.56 326.00,184.74 325.00,184.74 325.00,184.88 324.00,184.88 324.00,184.95 323.00,184.95 323.00,184.80 322.00,184.80 322.00,184.56 321.00,184.56 321.00,184.73 320.00,184.73 320.00,184.60 319.00,184.60 319.00,184.65 318.00,184.65 318.00,184.51 317.00,184.51 317.00,184.51 316.00,184.51 316.00,184.46 315.00,184.46 315.00,184.55 314.00,184.55 314.00,184.72 313.00,184.72 313.00,184.79 312.00,184.79 312.00,184.91 311.00,184.91 311.00,184.66 310.00,184.66 310.00,184.71 309.00,184.71 309.00,185.25 308.00,185.25 308.00,185.10 307.00,185.10 307.00,185.58 306.00,185.58 306.00,185.34 305.00,185.34 305.00,184.87 304.00,184.87 304.00,184.73 303.00,184.73 303.00,184.52 302.00,184.52 302.00,183.80 301.00,183.80 301.00,183.54 300.00,183.54 300.00,183.47 299.00,183.47 299.00,183.54 298.00,183.54 298.00,183.91 297.00,183.91 297.00,184.39 296.00,184.39 296.00,184.69 295.00,184.69 295.00,184.95 294.00,184.95 294.00,184.98 293.00,184.98 293.00,184.77 292.00,184.77 292.00,184.61 291.00,184.61 291.00,184.87 290.00,184.87 290.00,184.66 289.00,184.66 289.00,184.59 288.00,184.59 288.00,184.47 287.00,184.47 287.00,184.79 286.00,184.79 286.00,184.56 285.00,184.56 285.00,184.91 284.00,184.91 284.00,184.74 283.00,184.74 283.00,184.80 282.00,184.80 282.00,184.50 281.00,184.50 281.00,184.65 280.00,184.65 280.00,184.83 279.00,184.83 279.00,184.96 278.00,184.96 278.00,184.91 277.00,184.91 277.00,184.78 276.00,184.78 276.00,184.60 275.00,184.60 275.00,184.45 274.00,184.45 274.00,184.63 273.00,184.63 273.00,184.67 272.00,184.67 272.00,184.48 271.00,184.48 271.00,184.70 270.00,184.70 270.00,184.75 269.00,184.75 269.00,184.48 268.00,184.48 268.00,184.78 267.00,184.78 267.00,184.59 266.00,184.59 266.00,184.64 265.00,184.64 265.00,184.53 264.00,184.53 264.00,184.50 263.00,184.50 263.00,184.90 262.00,184.90 262.00,184.80 261.00,184.80 261.00,184.50 260.00,184.50 260.00,184.56 259.00,184.56 259.00,184.56 258.00,184.56 258.00,184.51 257.00,184.51 257.00,184.91 256.00,184.91 256.00,184.55 255.00,184.55 255.00,184.84 254.00,184.84 254.00,184.66 253.00,184.66 253.00,184.95 252.00,184.95 252.00,184.72 251.00,184.72 251.00,184.45 250.00,184.45 250.00,184.95 249.00,184.95 249.00,184.93 248.00,184.93 248.00,184.77 247.00,184.77 247.00,184.71 246.00,184.71 246.00,184.56 245.00,184.56 245.00,184.76 244.00,184.76 244.00,184.88 243.00,184.88 243.00,184.93 242.00,184.93 242.00,184.72 241.00,184.72 241.00,184.81 240.00,184.81 240.00,184.94 239.00,184.94 239.00,184.61 238.00,184.61 238.00,184.86 237.00,184.86 237.00,184.80 236.00,184.80 236.00,184.48 235.00,184.48 235.00,184.59 234.00,184.59 234.00,184.94 233.00,184.94 233.00,184.56 232.00,184.56 232.00,184.44 231.00,184.44 231.00,184.55 230.00,184.55 230.00,184.63 229.00,184.63 229.00,184.42 228.00,184.42 228.00,184.83 227.00,184.83 227.00,184.56 226.00,184.56 226.00,184.85 225.00,184.85 225.00,184.54 224.00,184.54 224.00,184.85 223.00,184.85 223.00,184.73 222.00,184.73 222.00,184.93 221.00,184.93 221.00,184.90 220.00,184.90 220.00,184.46 219.00,184.46 219.00,184.61 218.00,184.61 218.00,184.67 217.00,184.67 217.00,184.88 216.00,184.88 216.00,184.93 215.00,184.93 215.00,184.87 214.00,184.87 214.00,184.53 213.80,184.53"/><rect x="334" y="182.80" width="1" height="4.60" fill="#0077b9"/><rect x="292" y="182.80" width="1" height="2.60" fill="#0077b9"/><polygon fill="#0077b9" points="407.10,25.76 408.00,25.76 408.00,26.58 409.00,26.58 409.00,25.57 410.00,25.57 410.00,23.45 411.00,23.45 411.00,21.25 412.00,21.25 412.00,24.10 413.00,24.10 413.00,23.64 414.00,23.64 414.00,28.38 415.00,28.38 415.00,26.44 416.00,26.44 416.00,23.70 417.00,23.70 417.00,23.06 418.00,23.06 418.00,24.40 419.00,24.40 419.00,25.73 420.00,25.73 420.00,26.31 421.00,26.31 421.00,26.53 422.00,26.53 422.00,26.71 423.00,26.71 423.00,28.54 424.00,28.54 424.00,25.83 425.00,25.83 425.00,24.75 426.00,24.75 426.00,26.76 427.00,26.76 427.00,25.27 428.00,25.27 428.00,26.60 429.00,26.60 429.00,28.60 430.00,28.60 430.00,27.54 431.00,27.54 431.00,27.11 432.00,27.11 432.00,26.95 433.00,26.95 433.00,25.12 434.00,25.12 434.00,24.70 435.00,24.70 435.00,22.09 436.00,22.09 436.00,21.38 437.00,21.38 437.00,22.76 438.00,22.76 438.00,22.50 439.00,22.50 439.00,22.71 440.00,22.71 440.00,25.58 441.00,25.58 441.00,27.61 442.00,27.61 442.00,24.84 443.00,24.84 443.00,24.86 444.00,24.86 444.00,24.02 445.00,24.02 445.00,27.43 446.00,27.43 446.00,22.43 447.00,22.43 447.00,22.45 448.00,22.45 448.00,25.41 449.00,25.41 449.00,23.42 450.00,23.42 450.00,26.39 451.00,26.39 451.00,27.85 452.00,27.85 452.00,27.91 453.00,27.91 453.00,22.63 454.00,22.63 454.00,24.03 455.00,24.03 455.00,23.87 456.00,23.87 456.00,29.43 457.00,29.43 457.00,27.72 458.00,27.72 458.00,27.66 459.00,27.66 459.00,24.16 460.00,24.16 460.00,23.83 461.00,23.83 461.00,22.81 462.00,22.81 462.00,17.49 463.00,17.49 463.00,20.12 464.00,20.12 464.00,17.11 465.00,17.11 465.00,26.99 466.00,26.99 466.00,24.00 467.00,24.00 467.00,21.89 468.00,21.89 468.00,22.17 469.00,22.17 469.00,24.74 470.00,24.74 470.00,24.40 471.00,24.40 471.00,25.13 472.00,25.13 472.00,24.69 473.00,24.69 473.00,25.06 474.00,25.06 474.00,24.16 475.00,24.16 475.00,28.84 476.00,28.84 476.00,26.87 477.00,26.87 477.00,27.69 478.00,27.69 478.00,24.64 479.00,24.64 479.00,27.10 480.00,27.10 480.00,26.05 481.00,26.05 481.00,18.48 482.00,18.48 482.00,22.15 483.00,22.15 483.00,24.24 484.00,24.24 484.00,27.26 485.00,27.26 485.00,25.46 486.00,25.46 486.00,20.46 487.00,20.46 487.00,20.59 488.00,20.59 488.00,24.42 489.00,24.42 489.00,24.19 490.00,24.19 490.00,21.44 491.00,21.44 491.00,24.12 492.00,24.12 492.00,22.62 493.00,22.62 493.00,26.80 494.00,26.80 494.00,26.44 495.00,26.44 495.00,26.87 496.00,26.87 496.00,26.72 497.00,26.72 497.00,26.18 498.00,26.18 498.00,28.11 499.00,28.11 499.00,24.48 500.00,24.48 500.00,23.83 501.00,23.83 501.00,22.88 502.00,22.88 502.00,24.87 503.00,24.87 503.00,22.12 504.00,22.12 504.00,23.07 505.00,23.07 505.00,22.13 506.00,22.13 506.00,22.29 507.00,22.29 507.00,28.27 508.00,28.27 508.00,29.34 509.00,29.34 509.00,28.62 510.00,28.62 510.00,28.90 511.00,28.90 511.00,30.13 512.00,30.13 512.00,25.90 513.00,25.90 513.00,26.29 514.00,26.29 514.00,25.61 515.00,25.61 515.00,22.40 516.00,22.40 516.00,23.12 517.00,23.12 517.00,26.14 518.00,26.14 518.00,28.78 519.00,28.78 519.00,26.12 520.00,26.12 520.00,28.44 521.00,28.44 521.00,20.20 522.00,20.20 522.00,23.28 523.00,23.28 523.00,24.44 524.00,24.44 524.00,24.83 525.00,24.83 525.00,25.63 526.00,25.63 526.00,23.67 527.00,23.67 527.00,20.20 528.00,20.20 528.00,22.55 529.00,22.55 529.00,23.53 530.00,23.53 530.00,25.98 531.00,25.98 531.00,25.21 532.00,25.21 532.00,21.94 533.00,21.94 533.00,21.86 534.00,21.86 534.00,23.29 535.00,23.29 535.00,24.93 536.00,24.93 536.00,24.08 537.00,24.08 537.00,20.69 538.00,20.69 538.00,16.57 539.00,16.57 539.00,15.08 539.20,15.08 539.20,52.92 539.00,52.92 539.00,52.93 538.00,52.93 538.00,53.05 537.00,53.05 537.00,58.09 536.00,58.09 536.00,55.46 535.00,55.46 535.00,58.63 534.00,58.63 534.00,55.65 533.00,55.65 533.00,51.57 532.00,51.57 532.00,50.43 531.00,50.43 531.00,52.20 530.00,52.20 530.00,51.06 529.00,51.06 529.00,53.86 528.00,53.86 528.00,58.75 527.00,58.75 527.00,58.87 526.00,58.87 526.00,56.10 525.00,56.10 525.00,51.67 524.00,51.67 524.00,49.97 523.00,49.97 523.00,51.77 522.00,51.77 522.00,56.64 521.00,56.64 521.00,59.12 520.00,59.12 520.00,55.22 519.00,55.22 519.00,53.06 518.00,53.06 518.00,51.19 517.00,51.19 517.00,51.69 516.00,51.69 516.00,51.87 515.00,51.87 515.00,51.10 514.00,51.10 514.00,48.83 513.00,48.83 513.00,52.81 512.00,52.81 512.00,55.14 511.00,55.14 511.00,53.39 510.00,53.39 510.00,54.22 509.00,54.22 509.00,51.53 508.00,51.53 508.00,49.07 507.00,49.07 507.00,50.75 506.00,50.75 506.00,52.49 505.00,52.49 505.00,54.18 504.00,54.18 504.00,51.65 503.00,51.65 503.00,49.89 502.00,49.89 502.00,50.70 501.00,50.70 501.00,51.63 500.00,51.63 500.00,54.80 499.00,54.80 499.00,53.03 498.00,53.03 498.00,52.80 497.00,52.80 497.00,51.57 496.00,51.57 496.00,51.31 495.00,51.31 495.00,48.45 494.00,48.45 494.00,48.68 493.00,48.68 493.00,51.68 492.00,51.68 492.00,52.42 491.00,52.42 491.00,52.19 490.00,52.19 490.00,57.08 489.00,57.08 489.00,55.76 488.00,55.76 488.00,56.86 487.00,56.86 487.00,59.18 486.00,59.18 486.00,57.37 485.00,57.37 485.00,54.08 484.00,54.08 484.00,54.09 483.00,54.09 483.00,50.71 482.00,50.71 482.00,49.76 481.00,49.76 481.00,50.57 480.00,50.57 480.00,53.09 479.00,53.09 479.00,51.63 478.00,51.63 478.00,52.91 477.00,52.91 477.00,51.56 476.00,51.56 476.00,51.36 475.00,51.36 475.00,49.85 474.00,49.85 474.00,51.25 473.00,51.25 473.00,49.99 472.00,49.99 472.00,51.78 471.00,51.78 471.00,52.97 470.00,52.97 470.00,50.94 469.00,50.94 469.00,52.03 468.00,52.03 468.00,51.62 467.00,51.62 467.00,54.41 466.00,54.41 466.00,53.22 465.00,53.22 465.00,62.69 464.00,62.69 464.00,62.29 463.00,62.29 463.00,61.92 462.00,61.92 462.00,56.91 461.00,56.91 461.00,52.71 460.00,52.71 460.00,51.58 459.00,51.58 459.00,49.07 458.00,49.07 458.00,52.87 457.00,52.87 457.00,51.59 456.00,51.59 456.00,52.04 455.00,52.04 455.00,50.09 454.00,50.09 454.00,51.99 453.00,51.99 453.00,52.34 452.00,52.34 452.00,54.60 451.00,54.60 451.00,54.93 450.00,54.93 450.00,55.19 449.00,55.19 449.00,58.03 448.00,58.03 448.00,57.72 447.00,57.72 447.00,50.58 446.00,50.58 446.00,50.71 445.00,50.71 445.00,53.63 444.00,53.63 444.00,51.11 443.00,51.11 443.00,53.82 442.00,53.82 442.00,51.74 441.00,51.74 441.00,50.80 440.00,50.80 440.00,51.45 439.00,51.45 439.00,53.22 438.00,53.22 438.00,60.40 437.00,60.40 437.00,56.30 436.00,56.30 436.00,54.44 435.00,54.44 435.00,53.28 434.00,53.28 434.00,53.08 433.00,53.08 433.00,52.30 432.00,52.30 432.00,51.02 431.00,51.02 431.00,50.23 430.00,50.23 430.00,48.51 429.00,48.51 429.00,53.69 428.00,53.69 428.00,55.21 427.00,55.21 427.00,55.46 426.00,55.46 426.00,54.49 425.00,54.49 425.00,55.62 424.00,55.62 424.00,52.01 423.00,52.01 423.00,54.09 422.00,54.09 422.00,53.57 421.00,53.57 421.00,53.23 420.00,53.23 420.00,49.68 419.00,49.68 419.00,52.91 418.00,52.91 418.00,51.13 417.00,51.13 417.00,53.04 416.00,53.04 416.00,50.55 415.00,50.55 415.00,49.16 414.00,49.16 414.00,48.92 413.00,48.92 413.00,50.82 412.00,50.82 412.00,51.76 411.00,51.76 411.00,51.29 410.00,51.29 410.00,54.32 409.00,54.32 409.00,51.42 408.00,51.42 408.00,53.51 407.10,53.51"/><rect x="515" y="39.10" width="1" height="26.48" fill="#0077b9"/><rect x="538" y="14.50" width="1" height="24.60" fill="#0077b9"/><polygon fill="#0077b9" points="407.10,92.49 408.00,92.49 408.00,97.07 409.00,97.07 409.00,95.04 410.00,95.04 410.00,97.44 411.00,97.44 411.00,98.22 412.00,98.22 412.00,96.78 413.00,96.78 413.00,97.26 414.00,97.26 414.00,97.71 415.00,97.71 415.00,95.66 416.00,95.66 416.00,94.62 417.00,94.62 417.00,93.56 418.00,93.56 418.00,94.90 419.00,94.90 419.00,97.36 420.00,97.36 420.00,97.37 421.00,97.37 421.00,89.49 422.00,89.49 422.00,83.65 423.00,83.65 423.00,83.78 424.00,83.78 424.00,97.82 425.00,97.82 425.00,96.77 426.00,96.77 426.00,94.47 427.00,94.47 427.00,95.88 428.00,95.88 428.00,94.89 429.00,94.89 429.00,97.61 430.00,97.61 430.00,97.28 431.00,97.28 431.00,96.66 432.00,96.66 432.00,96.02 433.00,96.02 433.00,95.84 434.00,95.84 434.00,95.49 435.00,95.49 435.00,95.46 436.00,95.46 436.00,92.97 437.00,92.97 437.00,93.68 438.00,93.68 438.00,92.13 439.00,92.13 439.00,94.54 440.00,94.54 440.00,95.08 441.00,95.08 441.00,94.53 442.00,94.53 442.00,96.50 443.00,96.50 443.00,97.39 444.00,97.39 444.00,98.29 445.00,98.29 445.00,97.82 446.00,97.82 446.00,93.10 447.00,93.10 447.00,96.66 448.00,96.66 448.00,95.41 449.00,95.41 449.00,96.85 450.00,96.85 450.00,93.21 451.00,93.21 451.00,90.16 452.00,90.16 452.00,83.82 453.00,83.82 453.00,85.63 454.00,85.63 454.00,83.25 455.00,83.25 455.00,87.44 456.00,87.44 456.00,95.86 457.00,95.86 457.00,98.14 458.00,98.14 458.00,98.40 459.00,98.40 459.00,96.60 460.00,96.60 460.00,96.43 461.00,96.43 461.00,94.65 462.00,94.65 462.00,95.92 463.00,95.92 463.00,94.11 464.00,94.11 464.00,95.64 465.00,95.64 465.00,94.93 466.00,94.93 466.00,93.93 467.00,93.93 467.00,94.92 468.00,94.92 468.00,95.61 469.00,95.61 469.00,96.63 470.00,96.63 470.00,96.90 471.00,96.90 471.00,97.33 472.00,97.33 472.00,96.77 473.00,96.77 473.00,96.65 474.00,96.65 474.00,93.75 475.00,93.75 475.00,93.63 476.00,93.63 476.00,96.30 477.00,96.30 477.00,93.87 478.00,93.87 478.00,93.35 479.00,93.35 479.00,92.70 480.00,92.70 480.00,93.89 481.00,93.89 481.00,93.95 482.00,93.95 482.00,92.69 483.00,92.69 483.00,92.99 484.00,92.99 484.00,90.72 485.00,90.72 485.00,90.58 486.00,90.58 486.00,93.62 487.00,93.62 487.00,92.08 488.00,92.08 488.00,89.82 489.00,89.82 489.00,89.93 490.00,89.93 490.00,94.60 491.00,94.60 491.00,95.73 492.00,95.73 492.00,98.50 493.00,98.50 493.00,97.50 494.00,97.50 494.00,92.96 495.00,92.96 495.00,91.95 496.00,91.95 496.00,92.89 497.00,92.89 497.00,97.38 498.00,97.38 498.00,97.39 499.00,97.39 499.00,93.35 500.00,93.35 500.00,93.80 501.00,93.80 501.00,95.57 502.00,95.57 502.00,98.66 503.00,98.66 503.00,98.58 504.00,98.58 504.00,95.09 505.00,95.09 505.00,93.67 506.00,93.67 506.00,94.39 507.00,94.39 507.00,99.29 508.00,99.29 508.00,98.04 509.00,98.04 509.00,99.67 510.00,99.67 510.00,90.79 511.00,90.79 511.00,86.71 512.00,86.71 512.00,89.48 513.00,89.48 513.00,98.84 514.00,98.84 514.00,97.25 515.00,97.25 515.00,94.42 516.00,94.42 516.00,92.48 517.00,92.48 517.00,98.32 518.00,98.32 518.00,93.34 519.00,93.34 519.00,92.69 520.00,92.69 520.00,95.36 521.00,95.36 521.00,95.63 522.00,95.63 522.00,98.59 523.00,98.59 523.00,99.08 524.00,99.08 524.00,96.75 525.00,96.75 525.00,95.25 526.00,95.25 526.00,93.54 527.00,93.54 527.00,95.50 528.00,95.50 528.00,97.64 529.00,97.64 529.00,95.45 530.00,95.45 530.00,94.73 531.00,94.73 531.00,94.22 532.00,94.22 532.00,93.92 533.00,93.92 533.00,94.29 534.00,94.29 534.00,92.42 535.00,92.42 535.00,94.39 536.00,94.39 536.00,94.62 537.00,94.62 537.00,97.23 538.00,97.23 538.00,98.38 539.00,98.38 539.00,97.29 539.20,97.29 539.20,122.61 539.00,122.61 539.00,123.83 538.00,123.83 538.00,123.26 537.00,123.26 537.00,121.81 536.00,121.81 536.00,119.70 535.00,119.70 535.00,119.69 534.00,119.69 534.00,119.52 533.00,119.52 533.00,121.00 532.00,121.00 532.00,117.73 531.00,117.73 531.00,119.44 530.00,119.44 530.00,118.97 529.00,118.97 529.00,116.88 528.00,116.88 528.00,117.88 527.00,117.88 527.00,117.40 526.00,117.40 526.00,120.01 525.00,120.01 525.00,120.16 524.00,120.16 524.00,119.65 523.00,119.65 523.00,120.66 522.00,120.66 522.00,122.53 521.00,122.53 521.00,121.05 520.00,121.05 520.00,120.38 519.00,120.38 519.00,119.53 518.00,119.53 518.00,119.96 517.00,119.96 517.00,123.89 516.00,123.89 516.00,124.08 515.00,124.08 515.00,119.43 514.00,119.43 514.00,116.08 513.00,116.08 513.00,125.82 512.00,125.82 512.00,125.43 511.00,125.43 511.00,123.66 510.00,123.66 510.00,120.45 509.00,120.45 509.00,119.66 508.00,119.66 508.00,118.13 507.00,118.13 507.00,126.41 506.00,126.41 506.00,124.53 505.00,124.53 505.00,123.35 504.00,123.35 504.00,118.29 503.00,118.29 503.00,119.10 502.00,119.10 502.00,119.53 501.00,119.53 501.00,120.26 500.00,120.26 500.00,120.16 499.00,120.16 499.00,120.18 498.00,120.18 498.00,117.56 497.00,117.56 497.00,125.43 496.00,125.43 496.00,125.44 495.00,125.44 495.00,124.03 494.00,124.03 494.00,119.50 493.00,119.50 493.00,126.61 492.00,126.61 492.00,125.93 491.00,125.93 491.00,126.61 490.00,126.61 490.00,120.05 489.00,120.05 489.00,126.54 488.00,126.54 488.00,123.81 487.00,123.81 487.00,124.21 486.00,124.21 486.00,118.20 485.00,118.20 485.00,119.48 484.00,119.48 484.00,118.88 483.00,118.88 483.00,117.54 482.00,117.54 482.00,117.72 481.00,117.72 481.00,118.66 480.00,118.66 480.00,117.78 479.00,117.78 479.00,119.32 478.00,119.32 478.00,119.63 477.00,119.63 477.00,120.45 476.00,120.45 476.00,119.78 475.00,119.78 475.00,119.26 474.00,119.26 474.00,121.59 473.00,121.59 473.00,120.35 472.00,120.35 472.00,119.43 471.00,119.43 471.00,118.20 470.00,118.20 470.00,122.93 469.00,122.93 469.00,122.05 468.00,122.05 468.00,120.99 467.00,120.99 467.00,117.32 466.00,117.32 466.00,120.47 465.00,120.47 465.00,122.58 464.00,122.58 464.00,123.85 463.00,123.85 463.00,121.73 462.00,121.73 462.00,121.60 461.00,121.60 461.00,119.90 460.00,119.90 460.00,117.86 459.00,117.86 459.00,117.79 458.00,117.79 458.00,118.24 457.00,118.24 457.00,119.71 456.00,119.71 456.00,121.29 455.00,121.29 455.00,121.61 454.00,121.61 454.00,123.05 453.00,123.05 453.00,120.74 452.00,120.74 452.00,117.96 451.00,117.96 451.00,118.30 450.00,118.30 450.00,122.28 449.00,122.28 449.00,120.72 448.00,120.72 448.00,123.13 447.00,123.13 447.00,120.30 446.00,120.30 446.00,118.82 445.00,118.82 445.00,121.74 444.00,121.74 444.00,121.62 443.00,121.62 443.00,119.47 442.00,119.47 442.00,118.45 441.00,118.45 441.00,118.91 440.00,118.91 440.00,117.11 439.00,117.11 439.00,119.39 438.00,119.39 438.00,119.60 437.00,119.60 437.00,119.72 436.00,119.72 436.00,122.90 435.00,122.90 435.00,122.79 434.00,122.79 434.00,120.77 433.00,120.77 433.00,119.44 432.00,119.44 432.00,117.47 431.00,117.47 431.00,115.77 430.00,115.77 430.00,119.48 429.00,119.48 429.00,120.27 428.00,120.27 428.00,119.41 427.00,119.41 427.00,118.25 426.00,118.25 426.00,118.49 425.00,118.49 425.00,119.74 424.00,119.74 424.00,124.73 423.00,124.73 423.00,121.62 422.00,121.62 422.00,122.28 421.00,122.28 421.00,118.25 420.00,118.25 420.00,118.35 419.00,118.35 419.00,120.58 418.00,120.58 418.00,122.90 417.00,122.90 417.00,121.28 416.00,121.28 416.00,121.22 415.00,121.22 415.00,119.03 414.00,119.03 414.00,118.50 413.00,118.50 413.00,115.52 412.00,115.52 412.00,119.98 411.00,119.98 411.00,120.99 410.00,120.99 410.00,127.80 409.00,127.80 409.00,124.59 408.00,124.59 408.00,123.97 407.10,123.97"/><polygon fill="#0077b9" points="407.00,170.30 408.00,170.30 408.00,171.87 409.00,171.87 409.00,171.24 410.00,171.24 410.00,170.68 411.00,170.68 411.00,170.90 412.00,170.90 412.00,170.09 413.00,170.09 413.00,170.34 414.00,170.34 414.00,170.08 415.00,170.08 415.00,172.12 416.00,172.12 416.00,171.63 417.00,171.63 417.00,171.53 418.00,171.53 418.00,172.09 419.00,172.09 419.00,172.13 420.00,172.13 420.00,170.47 421.00,170.47 421.00,169.75 422.00,169.75 422.00,170.65 423.00,170.65 423.00,171.83 424.00,171.83 424.00,170.93 425.00,170.93 425.00,171.85 426.00,171.85 426.00,170.81 427.00,170.81 427.00,171.88 428.00,171.88 428.00,170.66 429.00,170.66 429.00,169.73 430.00,169.73 430.00,169.74 431.00,169.74 431.00,170.24 432.00,170.24 432.00,170.10 433.00,170.10 433.00,170.92 434.00,170.92 434.00,171.37 435.00,171.37 435.00,170.05 436.00,170.05 436.00,172.07 437.00,172.07 437.00,171.75 438.00,171.75 438.00,171.24 439.00,171.24 439.00,171.55 440.00,171.55 440.00,170.62 441.00,170.62 441.00,171.98 442.00,171.98 442.00,172.09 443.00,172.09 443.00,172.04 444.00,172.04 444.00,169.86 445.00,169.86 445.00,172.04 446.00,172.04 446.00,171.94 447.00,171.94 447.00,171.74 448.00,171.74 448.00,171.19 449.00,171.19 449.00,170.66 450.00,170.66 450.00,172.08 451.00,172.08 451.00,170.01 452.00,170.01 452.00,170.73 453.00,170.73 453.00,171.82 454.00,171.82 454.00,171.98 455.00,171.98 455.00,171.26 456.00,171.26 456.00,171.27 457.00,171.27 457.00,171.90 458.00,171.90 458.00,172.00 459.00,172.00 459.00,170.72 460.00,170.72 460.00,171.04 461.00,171.04 461.00,170.59 462.00,170.59 462.00,171.95 463.00,171.95 463.00,170.87 464.00,170.87 464.00,172.08 465.00,172.08 465.00,172.13 466.00,172.13 466.00,171.99 467.00,171.99 467.00,170.66 468.00,170.66 468.00,171.41 469.00,171.41 469.00,171.21 470.00,171.21 470.00,171.27 471.00,171.27 471.00,171.15 472.00,171.15 472.00,171.82 473.00,171.82 473.00,170.88 474.00,170.88 474.00,172.13 475.00,172.13 475.00,171.74 476.00,171.74 476.00,172.10 477.00,172.10 477.00,172.04 478.00,172.04 478.00,170.14 479.00,170.14 479.00,171.25 480.00,171.25 480.00,170.63 481.00,170.63 481.00,171.24 482.00,171.24 482.00,171.33 483.00,171.33 483.00,170.61 484.00,170.61 484.00,171.19 485.00,171.19 485.00,171.48 486.00,171.48 486.00,171.37 487.00,171.37 487.00,171.34 488.00,171.34 488.00,171.79 489.00,171.79 489.00,171.06 490.00,171.06 490.00,171.69 491.00,171.69 491.00,171.10 492.00,171.10 492.00,171.53 493.00,171.53 493.00,170.78 494.00,170.78 494.00,170.97 495.00,170.97 495.00,172.11 496.00,172.11 496.00,170.66 497.00,170.66 497.00,170.18 498.00,170.18 498.00,171.81 499.00,171.81 499.00,170.84 500.00,170.84 500.00,170.40 501.00,170.40 501.00,171.50 502.00,171.50 502.00,172.04 503.00,172.04 503.00,170.84 504.00,170.84 504.00,170.43 505.00,170.43 505.00,171.84 506.00,171.84 506.00,171.95 507.00,171.95 507.00,170.72 508.00,170.72 508.00,171.46 509.00,171.46 509.00,172.13 510.00,172.13 510.00,171.98 511.00,171.98 511.00,171.95 512.00,171.95 512.00,171.30 513.00,171.30 513.00,171.36 514.00,171.36 514.00,171.46 515.00,171.46 515.00,171.79 516.00,171.79 516.00,171.71 517.00,171.71 517.00,171.50 518.00,171.50 518.00,171.34 519.00,171.34 519.00,171.35 520.00,171.35 520.00,170.90 521.00,170.90 521.00,169.69 522.00,169.69 522.00,170.78 523.00,170.78 523.00,171.52 524.00,171.52 524.00,169.78 525.00,169.78 525.00,172.04 526.00,172.04 526.00,169.91 527.00,169.91 527.00,171.50 528.00,171.50 528.00,171.54 529.00,171.54 529.00,170.39 530.00,170.39 530.00,171.23 531.00,171.23 531.00,170.50 532.00,170.50 532.00,171.75 533.00,171.75 533.00,171.37 534.00,171.37 534.00,171.11 535.00,171.11 535.00,171.93 536.00,171.93 536.00,170.73 537.00,170.73 537.00,172.02 538.00,172.02 538.00,172.04 539.00,172.04 539.00,171.89 539.20,171.89 539.20,183.22 539.00,183.22 539.00,182.83 538.00,182.83 538.00,182.75 537.00,182.75 537.00,183.98 536.00,183.98 536.00,182.71 535.00,182.71 535.00,183.35 534.00,183.35 534.00,183.50 533.00,183.50 533.00,182.85 532.00,182.85 532.00,183.74 531.00,183.74 531.00,183.81 530.00,183.81 530.00,183.92 529.00,183.92 529.00,183.14 528.00,183.14 528.00,183.59 527.00,183.59 527.00,184.93 526.00,184.93 526.00,183.04 525.00,183.04 525.00,184.55 524.00,184.55 524.00,183.31 523.00,183.31 523.00,184.04 522.00,184.04 522.00,184.51 521.00,184.51 521.00,184.03 520.00,184.03 520.00,183.26 519.00,183.26 519.00,183.73 518.00,183.73 518.00,182.96 517.00,182.96 517.00,183.46 516.00,183.46 516.00,182.86 515.00,182.86 515.00,183.45 514.00,183.45 514.00,183.29 513.00,183.29 513.00,183.25 512.00,183.25 512.00,183.26 511.00,183.26 511.00,182.99 510.00,182.99 510.00,183.18 509.00,183.18 509.00,183.57 508.00,183.57 508.00,183.83 507.00,183.83 507.00,183.12 506.00,183.12 506.00,183.10 505.00,183.10 505.00,184.37 504.00,184.37 504.00,183.91 503.00,183.91 503.00,183.02 502.00,183.02 502.00,183.65 501.00,183.65 501.00,184.01 500.00,184.01 500.00,183.75 499.00,183.75 499.00,183.26 498.00,183.26 498.00,184.54 497.00,184.54 497.00,183.78 496.00,183.78 496.00,182.75 495.00,182.75 495.00,183.54 494.00,183.54 494.00,183.85 493.00,183.85 493.00,183.03 492.00,183.03 492.00,183.26 491.00,183.26 491.00,183.05 490.00,183.05 490.00,183.80 489.00,183.80 489.00,182.83 488.00,182.83 488.00,183.64 487.00,183.64 487.00,183.16 486.00,183.16 486.00,183.25 485.00,183.25 485.00,183.66 484.00,183.66 484.00,184.09 483.00,184.09 483.00,183.76 482.00,183.76 482.00,183.70 481.00,183.70 481.00,183.96 480.00,183.96 480.00,183.24 479.00,183.24 479.00,184.55 478.00,184.55 478.00,182.85 477.00,182.85 477.00,183.15 476.00,183.15 476.00,183.01 475.00,183.01 475.00,183.32 474.00,183.32 474.00,183.98 473.00,183.98 473.00,182.81 472.00,182.81 472.00,183.31 471.00,183.31 471.00,183.29 470.00,183.29 470.00,183.74 469.00,183.74 469.00,183.33 468.00,183.33 468.00,184.19 467.00,184.19 467.00,183.35 466.00,183.35 466.00,183.29 465.00,183.29 465.00,182.95 464.00,182.95 464.00,183.91 463.00,183.91 463.00,183.22 462.00,183.22 462.00,184.02 461.00,184.02 461.00,183.57 460.00,183.57 460.00,183.66 459.00,183.66 459.00,183.34 458.00,183.34 458.00,183.05 457.00,183.05 457.00,183.73 456.00,183.73 456.00,183.79 455.00,183.79 455.00,182.95 454.00,182.95 454.00,183.11 453.00,183.11 453.00,183.72 452.00,183.72 452.00,184.77 451.00,184.77 451.00,183.07 450.00,183.07 450.00,183.62 449.00,183.62 449.00,183.34 448.00,183.34 448.00,183.35 447.00,183.35 447.00,182.88 446.00,182.88 446.00,182.77 445.00,182.77 445.00,184.42 444.00,184.42 444.00,183.28 443.00,183.28 443.00,182.74 442.00,182.74 442.00,183.23 441.00,183.23 441.00,184.07 440.00,184.07 440.00,183.14 439.00,183.14 439.00,183.33 438.00,183.33 438.00,183.41 437.00,183.41 437.00,183.29 436.00,183.29 436.00,184.42 435.00,184.42 435.00,183.54 434.00,183.54 434.00,183.64 433.00,183.64 433.00,184.21 432.00,184.21 432.00,184.55 431.00,184.55 431.00,184.52 430.00,184.52 430.00,185.04 429.00,185.04 429.00,183.85 428.00,183.85 428.00,183.18 427.00,183.18 427.00,183.74 426.00,183.74 426.00,182.83 425.00,182.83 425.00,183.76 424.00,183.76 424.00,183.01 423.00,183.01 423.00,183.87 422.00,183.87 422.00,184.31 421.00,184.31 421.00,183.99 420.00,183.99 420.00,183.27 419.00,183.27 419.00,182.97 418.00,182.97 418.00,183.19 417.00,183.19 417.00,182.97 416.00,182.97 416.00,183.13 415.00,183.13 415.00,184.13 414.00,184.13 414.00,184.02 413.00,184.02 413.00,184.00 412.00,184.00 412.00,183.79 411.00,183.79 411.00,183.67 410.00,183.67 410.00,183.14 409.00,183.14 409.00,183.06 408.00,183.06 408.00,184.45 407.00,184.45"/></g>
<g><path d="M25.3,8.3H156.3V64.3" fill="none" stroke="#4a4a4a" stroke-width="1.05"/><path d="M25.3,7.800000000000001V64.3H156.8" fill="none" stroke="#1c1c1c" stroke-width="1.1"/><line x1="22.60" y1="9.7" x2="25.3" y2="9.7" stroke="#1c1c1c" stroke-width="0.9"/><text transform="translate(20.9,11.45) scale(0.9,1)" text-anchor="end" class="tk">10</text><line x1="22.60" y1="36.0" x2="25.3" y2="36.0" stroke="#1c1c1c" stroke-width="0.9"/><text transform="translate(20.9,37.75) scale(0.9,1)" text-anchor="end" class="tk">0</text><line x1="22.60" y1="62.4" x2="25.3" y2="62.4" stroke="#1c1c1c" stroke-width="0.9"/><text transform="translate(20.9,64.15) scale(0.9,1)" text-anchor="end" class="tk">-10</text><line x1="26.90" y1="64.3" x2="26.90" y2="67.00" stroke="#1c1c1c" stroke-width="0.9"/><line x1="56.88" y1="64.3" x2="56.88" y2="67.00" stroke="#1c1c1c" stroke-width="0.9"/><line x1="86.86" y1="64.3" x2="86.86" y2="67.00" stroke="#1c1c1c" stroke-width="0.9"/><line x1="116.84" y1="64.3" x2="116.84" y2="67.00" stroke="#1c1c1c" stroke-width="0.9"/><line x1="146.82" y1="64.3" x2="146.82" y2="67.00" stroke="#1c1c1c" stroke-width="0.9"/><text transform="translate(11.7,37.50) rotate(-90)" text-anchor="middle" class="yl">X-axis</text><path d="M25.3,77.6H156.3V134.2" fill="none" stroke="#4a4a4a" stroke-width="1.05"/><path d="M25.3,77.1V134.2H156.8" fill="none" stroke="#1c1c1c" stroke-width="1.1"/><line x1="22.60" y1="79.1" x2="25.3" y2="79.1" stroke="#1c1c1c" stroke-width="0.9"/><text transform="translate(20.9,80.85) scale(0.9,1)" text-anchor="end" class="tk">10</text><line x1="22.60" y1="105.75" x2="25.3" y2="105.75" stroke="#1c1c1c" stroke-width="0.9"/><text transform="translate(20.9,107.50) scale(0.9,1)" text-anchor="end" class="tk">0</text><line x1="22.60" y1="132.4" x2="25.3" y2="132.4" stroke="#1c1c1c" stroke-width="0.9"/><text transform="translate(20.9,134.15) scale(0.9,1)" text-anchor="end" class="tk">-10</text><line x1="26.90" y1="134.2" x2="26.90" y2="136.90" stroke="#1c1c1c" stroke-width="0.9"/><line x1="56.88" y1="134.2" x2="56.88" y2="136.90" stroke="#1c1c1c" stroke-width="0.9"/><line x1="86.86" y1="134.2" x2="86.86" y2="136.90" stroke="#1c1c1c" stroke-width="0.9"/><line x1="116.84" y1="134.2" x2="116.84" y2="136.90" stroke="#1c1c1c" stroke-width="0.9"/><line x1="146.82" y1="134.2" x2="146.82" y2="136.90" stroke="#1c1c1c" stroke-width="0.9"/><text transform="translate(11.7,107.60) rotate(-90)" text-anchor="middle" class="yl">Y-axis</text><path d="M25.3,147.3H156.3V203.3" fill="none" stroke="#4a4a4a" stroke-width="1.05"/><path d="M25.3,146.8V203.3H156.8" fill="none" stroke="#1c1c1c" stroke-width="1.1"/><line x1="22.60" y1="148.6" x2="25.3" y2="148.6" stroke="#1c1c1c" stroke-width="0.9"/><text transform="translate(20.9,150.35) scale(0.9,1)" text-anchor="end" class="tk">10</text><line x1="22.60" y1="175.1" x2="25.3" y2="175.1" stroke="#1c1c1c" stroke-width="0.9"/><text transform="translate(20.9,176.85) scale(0.9,1)" text-anchor="end" class="tk">0</text><line x1="22.60" y1="201.6" x2="25.3" y2="201.6" stroke="#1c1c1c" stroke-width="0.9"/><text transform="translate(20.9,203.35) scale(0.9,1)" text-anchor="end" class="tk">-10</text><line x1="26.90" y1="203.3" x2="26.90" y2="206.00" stroke="#1c1c1c" stroke-width="0.9"/><text transform="translate(27.40,212.8) scale(0.9,1)" text-anchor="middle" class="tk">0</text><line x1="56.88" y1="203.3" x2="56.88" y2="206.00" stroke="#1c1c1c" stroke-width="0.9"/><text transform="translate(57.68,212.8) scale(0.9,1)" text-anchor="middle" class="tk">2500</text><line x1="86.86" y1="203.3" x2="86.86" y2="206.00" stroke="#1c1c1c" stroke-width="0.9"/><text transform="translate(87.76,212.8) scale(0.9,1)" text-anchor="middle" class="tk">5000</text><line x1="116.84" y1="203.3" x2="116.84" y2="206.00" stroke="#1c1c1c" stroke-width="0.9"/><text transform="translate(117.94,212.8) scale(0.9,1)" text-anchor="middle" class="tk">7500</text><line x1="146.82" y1="203.3" x2="146.82" y2="206.00" stroke="#1c1c1c" stroke-width="0.9"/><text transform="translate(148.22,212.8) scale(0.9,1)" text-anchor="middle" class="tk">10000</text><text transform="translate(11.7,177.00) rotate(-90)" text-anchor="middle" class="yl">Z-axis</text><text x="88.0" y="219.6" text-anchor="middle" class="xl">Time/0.1ms</text><path d="M212.1,6.8H347.5V64.0" fill="none" stroke="#4a4a4a" stroke-width="1.05"/><path d="M212.1,6.3V64.0H348.0" fill="none" stroke="#1c1c1c" stroke-width="1.1"/><line x1="209.40" y1="25.1" x2="212.1" y2="25.1" stroke="#1c1c1c" stroke-width="0.9"/><text transform="translate(207.3,26.85) scale(0.9,1)" text-anchor="end" class="tk">5</text><line x1="209.40" y1="43.5" x2="212.1" y2="43.5" stroke="#1c1c1c" stroke-width="0.9"/><text transform="translate(207.3,45.25) scale(0.9,1)" text-anchor="end" class="tk">0</text><line x1="209.40" y1="62.4" x2="212.1" y2="62.4" stroke="#1c1c1c" stroke-width="0.9"/><text transform="translate(207.3,64.15) scale(0.9,1)" text-anchor="end" class="tk">-5</text><line x1="214.30" y1="64.0" x2="214.30" y2="66.70" stroke="#1c1c1c" stroke-width="0.9"/><line x1="245.05" y1="64.0" x2="245.05" y2="66.70" stroke="#1c1c1c" stroke-width="0.9"/><line x1="275.80" y1="64.0" x2="275.80" y2="66.70" stroke="#1c1c1c" stroke-width="0.9"/><line x1="306.55" y1="64.0" x2="306.55" y2="66.70" stroke="#1c1c1c" stroke-width="0.9"/><line x1="337.30" y1="64.0" x2="337.30" y2="66.70" stroke="#1c1c1c" stroke-width="0.9"/><text transform="translate(197.8,37.90) rotate(-90)" text-anchor="middle" class="yl">X-axis</text><path d="M212.1,76.0H347.5V134.0" fill="none" stroke="#4a4a4a" stroke-width="1.05"/><path d="M212.1,75.5V134.0H348.0" fill="none" stroke="#1c1c1c" stroke-width="1.1"/><line x1="209.40" y1="94.2" x2="212.1" y2="94.2" stroke="#1c1c1c" stroke-width="0.9"/><text transform="translate(207.3,95.95) scale(0.9,1)" text-anchor="end" class="tk">5</text><line x1="209.40" y1="113.5" x2="212.1" y2="113.5" stroke="#1c1c1c" stroke-width="0.9"/><text transform="translate(207.3,115.25) scale(0.9,1)" text-anchor="end" class="tk">0</text><line x1="209.40" y1="132.8" x2="212.1" y2="132.8" stroke="#1c1c1c" stroke-width="0.9"/><text transform="translate(207.3,134.55) scale(0.9,1)" text-anchor="end" class="tk">-5</text><line x1="214.30" y1="134.0" x2="214.30" y2="136.70" stroke="#1c1c1c" stroke-width="0.9"/><line x1="245.05" y1="134.0" x2="245.05" y2="136.70" stroke="#1c1c1c" stroke-width="0.9"/><line x1="275.80" y1="134.0" x2="275.80" y2="136.70" stroke="#1c1c1c" stroke-width="0.9"/><line x1="306.55" y1="134.0" x2="306.55" y2="136.70" stroke="#1c1c1c" stroke-width="0.9"/><line x1="337.30" y1="134.0" x2="337.30" y2="136.70" stroke="#1c1c1c" stroke-width="0.9"/><text transform="translate(197.8,108.40) rotate(-90)" text-anchor="middle" class="yl">Y-axis</text><path d="M212.1,146.2H347.5V203.7" fill="none" stroke="#4a4a4a" stroke-width="1.05"/><path d="M212.1,145.7V203.7H348.0" fill="none" stroke="#1c1c1c" stroke-width="1.1"/><line x1="209.40" y1="164.4" x2="212.1" y2="164.4" stroke="#1c1c1c" stroke-width="0.9"/><text transform="translate(207.3,166.15) scale(0.9,1)" text-anchor="end" class="tk">5</text><line x1="209.40" y1="183.0" x2="212.1" y2="183.0" stroke="#1c1c1c" stroke-width="0.9"/><text transform="translate(207.3,184.75) scale(0.9,1)" text-anchor="end" class="tk">0</text><line x1="209.40" y1="202.1" x2="212.1" y2="202.1" stroke="#1c1c1c" stroke-width="0.9"/><text transform="translate(207.3,203.85) scale(0.9,1)" text-anchor="end" class="tk">-5</text><line x1="214.30" y1="203.7" x2="214.30" y2="206.40" stroke="#1c1c1c" stroke-width="0.9"/><text transform="translate(214.50,212.4) scale(0.9,1)" text-anchor="middle" class="tk">0</text><line x1="245.05" y1="203.7" x2="245.05" y2="206.40" stroke="#1c1c1c" stroke-width="0.9"/><text transform="translate(245.45,212.4) scale(0.9,1)" text-anchor="middle" class="tk">2500</text><line x1="275.80" y1="203.7" x2="275.80" y2="206.40" stroke="#1c1c1c" stroke-width="0.9"/><text transform="translate(276.40,212.4) scale(0.9,1)" text-anchor="middle" class="tk">5000</text><line x1="306.55" y1="203.7" x2="306.55" y2="206.40" stroke="#1c1c1c" stroke-width="0.9"/><text transform="translate(307.25,212.4) scale(0.9,1)" text-anchor="middle" class="tk">7500</text><line x1="337.30" y1="203.7" x2="337.30" y2="206.40" stroke="#1c1c1c" stroke-width="0.9"/><text transform="translate(338.20,212.4) scale(0.9,1)" text-anchor="middle" class="tk">10000</text><text transform="translate(197.8,177.50) rotate(-90)" text-anchor="middle" class="yl">Z-axis</text><text x="274.0" y="220.5" text-anchor="middle" class="xl">Time/0.1ms</text><path d="M405.5,11.4H539.4V68.0" fill="none" stroke="#4a4a4a" stroke-width="1.05"/><path d="M405.5,10.9V68.0H539.9" fill="none" stroke="#1c1c1c" stroke-width="1.1"/><line x1="402.80" y1="16.4" x2="405.5" y2="16.4" stroke="#1c1c1c" stroke-width="0.9"/><text transform="translate(401.9,18.15) scale(0.9,1)" text-anchor="end" class="tk">2</text><line x1="402.80" y1="39.4" x2="405.5" y2="39.4" stroke="#1c1c1c" stroke-width="0.9"/><text transform="translate(401.9,41.15) scale(0.9,1)" text-anchor="end" class="tk">0</text><line x1="402.80" y1="62.45" x2="405.5" y2="62.45" stroke="#1c1c1c" stroke-width="0.9"/><text transform="translate(401.9,64.20) scale(0.9,1)" text-anchor="end" class="tk">-2</text><line x1="407.90" y1="68.0" x2="407.90" y2="70.70" stroke="#1c1c1c" stroke-width="0.9"/><line x1="438.25" y1="68.0" x2="438.25" y2="70.70" stroke="#1c1c1c" stroke-width="0.9"/><line x1="468.60" y1="68.0" x2="468.60" y2="70.70" stroke="#1c1c1c" stroke-width="0.9"/><line x1="498.95" y1="68.0" x2="498.95" y2="70.70" stroke="#1c1c1c" stroke-width="0.9"/><line x1="529.30" y1="68.0" x2="529.30" y2="70.70" stroke="#1c1c1c" stroke-width="0.9"/><text transform="translate(392.0,41.90) rotate(-90)" text-anchor="middle" class="yl">X-axis</text><path d="M405.5,79.7H539.4V137.3" fill="none" stroke="#4a4a4a" stroke-width="1.05"/><path d="M405.5,79.2V137.3H539.9" fill="none" stroke="#1c1c1c" stroke-width="1.1"/><line x1="402.80" y1="85.0" x2="405.5" y2="85.0" stroke="#1c1c1c" stroke-width="0.9"/><text transform="translate(401.9,86.75) scale(0.9,1)" text-anchor="end" class="tk">2</text><line x1="402.80" y1="108.6" x2="405.5" y2="108.6" stroke="#1c1c1c" stroke-width="0.9"/><text transform="translate(401.9,110.35) scale(0.9,1)" text-anchor="end" class="tk">0</text><line x1="402.80" y1="132.0" x2="405.5" y2="132.0" stroke="#1c1c1c" stroke-width="0.9"/><text transform="translate(401.9,133.75) scale(0.9,1)" text-anchor="end" class="tk">-2</text><line x1="407.90" y1="137.3" x2="407.90" y2="140.00" stroke="#1c1c1c" stroke-width="0.9"/><line x1="438.25" y1="137.3" x2="438.25" y2="140.00" stroke="#1c1c1c" stroke-width="0.9"/><line x1="468.60" y1="137.3" x2="468.60" y2="140.00" stroke="#1c1c1c" stroke-width="0.9"/><line x1="498.95" y1="137.3" x2="498.95" y2="140.00" stroke="#1c1c1c" stroke-width="0.9"/><line x1="529.30" y1="137.3" x2="529.30" y2="140.00" stroke="#1c1c1c" stroke-width="0.9"/><text transform="translate(392.0,111.50) rotate(-90)" text-anchor="middle" class="yl">Y-axis</text><path d="M405.5,149.3H539.4V206.0" fill="none" stroke="#4a4a4a" stroke-width="1.05"/><path d="M405.5,148.8V206.0H539.9" fill="none" stroke="#1c1c1c" stroke-width="1.1"/><line x1="402.80" y1="154.4" x2="405.5" y2="154.4" stroke="#1c1c1c" stroke-width="0.9"/><text transform="translate(401.9,156.15) scale(0.9,1)" text-anchor="end" class="tk">2</text><line x1="402.80" y1="177.45" x2="405.5" y2="177.45" stroke="#1c1c1c" stroke-width="0.9"/><text transform="translate(401.9,179.20) scale(0.9,1)" text-anchor="end" class="tk">0</text><line x1="402.80" y1="200.5" x2="405.5" y2="200.5" stroke="#1c1c1c" stroke-width="0.9"/><text transform="translate(401.9,202.25) scale(0.9,1)" text-anchor="end" class="tk">-2</text><line x1="407.90" y1="206.0" x2="407.90" y2="208.70" stroke="#1c1c1c" stroke-width="0.9"/><text transform="translate(408.00,214.3) scale(0.9,1)" text-anchor="middle" class="tk">0</text><line x1="438.25" y1="206.0" x2="438.25" y2="208.70" stroke="#1c1c1c" stroke-width="0.9"/><text transform="translate(438.25,214.3) scale(0.9,1)" text-anchor="middle" class="tk">2500</text><line x1="468.60" y1="206.0" x2="468.60" y2="208.70" stroke="#1c1c1c" stroke-width="0.9"/><text transform="translate(468.30,214.3) scale(0.9,1)" text-anchor="middle" class="tk">5000</text><line x1="498.95" y1="206.0" x2="498.95" y2="208.70" stroke="#1c1c1c" stroke-width="0.9"/><text transform="translate(498.35,214.3) scale(0.9,1)" text-anchor="middle" class="tk">7500</text><line x1="529.30" y1="206.0" x2="529.30" y2="208.70" stroke="#1c1c1c" stroke-width="0.9"/><text transform="translate(528.40,214.3) scale(0.9,1)" text-anchor="middle" class="tk">10000</text><text transform="translate(392.0,179.80) rotate(-90)" text-anchor="middle" class="yl">Z-axis</text><text x="465.8" y="222.8" text-anchor="middle" class="xl">Time/0.1ms</text></g>
<g><text transform="translate(7.0,250.1) scale(1.09,1)" class="cap">(a) Fine Gravel Sandstone</text><text transform="translate(213.8,250.6) scale(1.09,1)" class="cap">(b) Fine Sandstone</text><text transform="translate(423.8,247.7) scale(1.09,1)" class="cap">(c) Mudstone</text></g>
</svg>
</body></html>
